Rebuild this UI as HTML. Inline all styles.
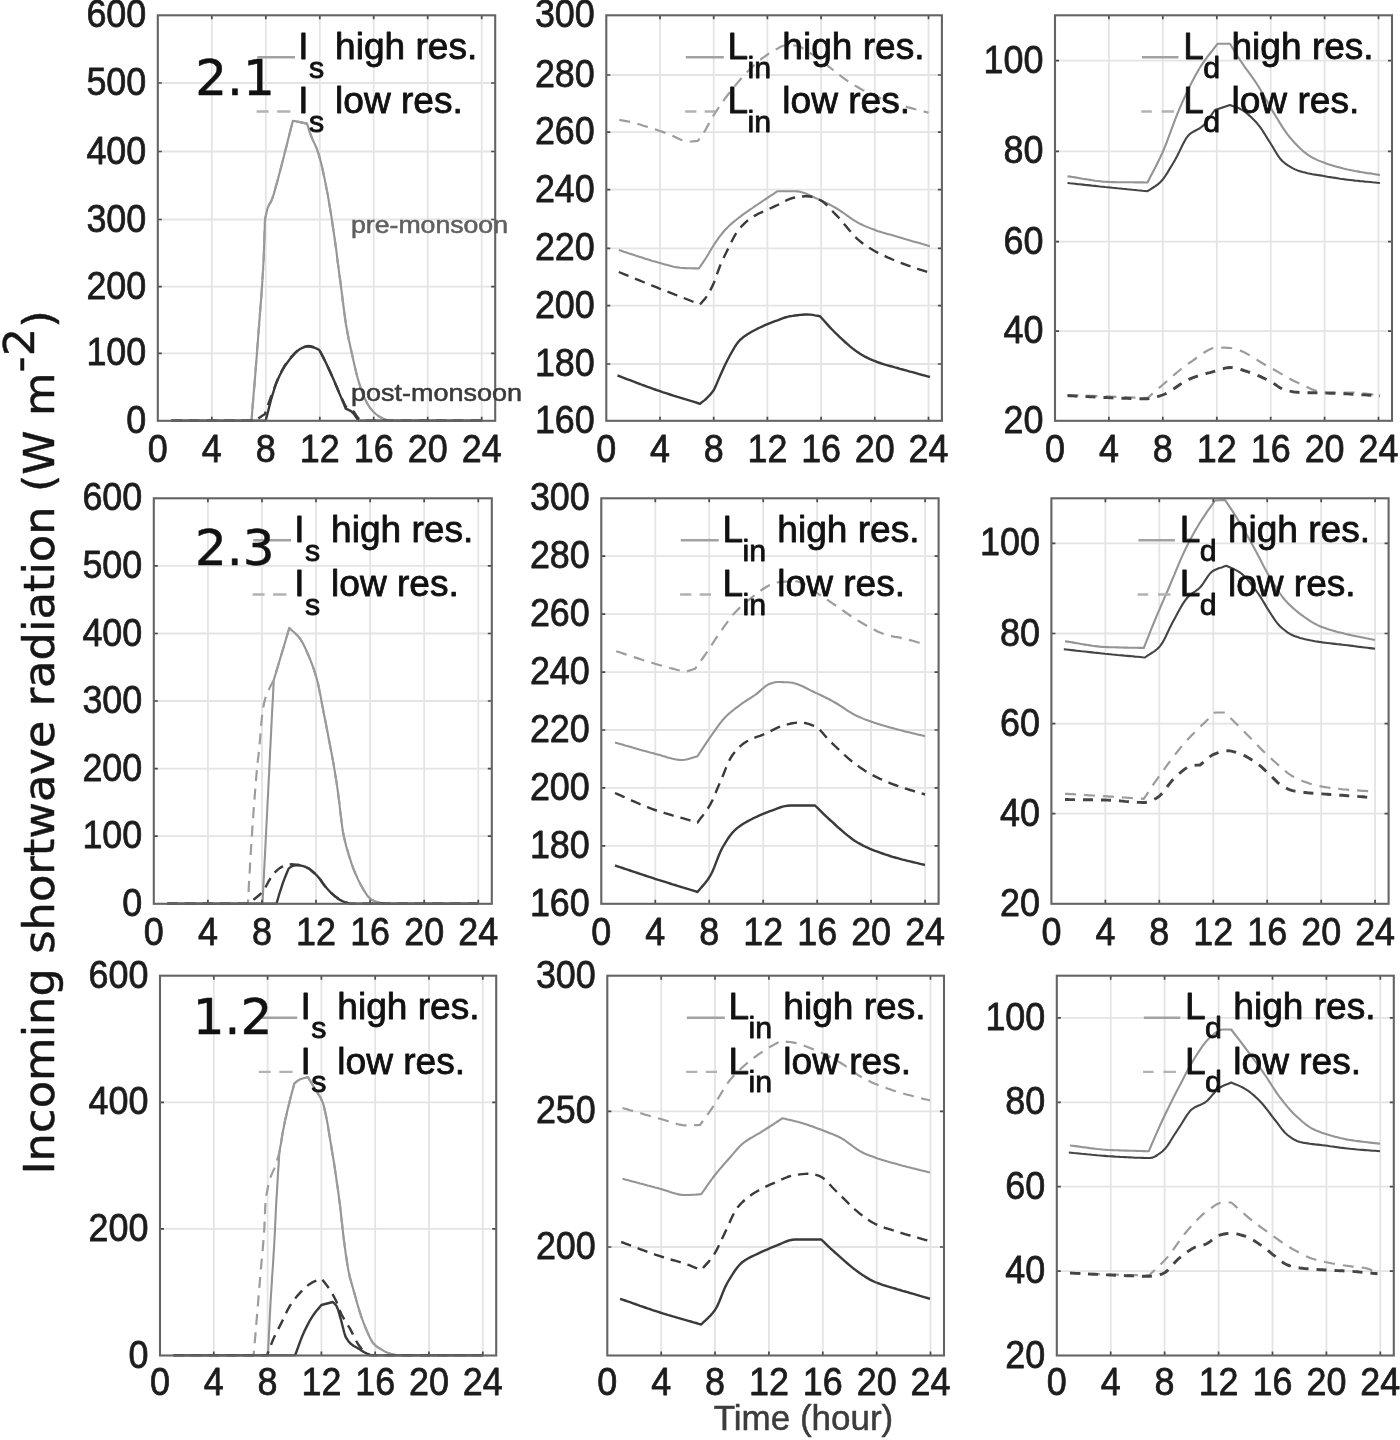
<!DOCTYPE html>
<html lang="en"><head><meta charset="utf-8"><title>Incoming radiation: high vs low resolution</title>
<style>
html,body{margin:0;padding:0;background:#fff;}
body{width:1400px;height:1440px;overflow:hidden;}
svg{display:block;}
.fig{filter:blur(0.75px);}
text{font-family:"Liberation Sans", Arial, Helvetica, sans-serif;fill:#1c1c1c;stroke:#1c1c1c;stroke-width:.75px;stroke-linejoin:round;}
.grid{fill:none;stroke:#e4e4e4;stroke-width:1.8;}
.tick{fill:none;stroke:#4a4a4a;stroke-width:1.7;}
.box{fill:none;stroke:#646464;stroke-width:2.1;}
.tl text{font-size:38px;}
.lg{font-size:36px;fill:#111;stroke:#111;stroke-width:.8px;}
.sub{font-size:29.5px;}
.pl{font-family:"DejaVu Sans", "Liberation Sans", sans-serif;font-size:50px;fill:#111;stroke:#111;stroke-width:.5px;}
.ann{font-size:24px;fill:#606060;stroke:#606060;stroke-width:.55px;}
.ann2{fill:#3a3a3a;stroke:#3a3a3a;}
.yl{font-family:"DejaVu Sans", "Liberation Sans", sans-serif;font-size:44.8px;fill:#161616;stroke:#161616;stroke-width:.5px;}
.xl{font-size:35px;fill:#3c3c3c;stroke:#3c3c3c;stroke-width:.5px;}
polyline{fill:none;stroke-linejoin:round;stroke-linecap:butt;}
.gs{stroke:#949494;stroke-width:2.1;}
.gd{stroke:#9d9d9d;stroke-width:2.2;stroke-dasharray:11 7.5;}
.bs{stroke:#3a3a3a;stroke-width:2.4;}
.bd{stroke:#3a3a3a;stroke-width:2.4;stroke-dasharray:10.5 7;}
.bs2{stroke:#444;stroke-width:2.1;}
.gd2{stroke:#9c9c9c;stroke-width:2.2;stroke-dasharray:11 8;}
.bd2{stroke:#444;stroke-width:2.9;stroke-dasharray:10 8;}
.lgs{stroke:#a2a2a2;stroke-width:2.4;}
.lgd{stroke:#b2b2b2;stroke-width:2.3;}
</style></head><body>
<svg class="fig" width="1400" height="1440" viewBox="0 0 1400 1440">
<rect width="1400" height="1440" fill="#fff"/>
<g class="panel">
<rect x="157.8" y="15.3" width="337.4" height="405.5" fill="#fff"/>
<path class="grid" d="M211.8 15.3V420.8M265.8 15.3V420.8M319.8 15.3V420.8M373.7 15.3V420.8M427.7 15.3V420.8M481.7 15.3V420.8M157.8 353.4H495.2M157.8 286.7H495.2M157.8 219.5H495.2M157.8 151.5H495.2M157.8 83H495.2"/>
<clipPath id="cp00"><rect x="157.8" y="14.3" width="337.4" height="407.5"/></clipPath>
<g clip-path="url(#cp00)">
<polyline class="gs" points="171.3,420.8 251.5,420.8 251.9,415.7 252.3,410.7 252.7,405.7 253.1,400.7 253.5,395.7 253.9,390.7 254.4,385.6 254.8,380.6 255.2,375.5 255.6,370.4 256,365.2 256.4,360 256.8,355.3 257.1,350.5 257.5,345.7 257.9,340.9 258.2,336 258.6,331 259,326.2 259.3,321.6 259.7,317.1 260,312.6 260.4,308.2 260.7,303.7 261.1,299.1 261.5,294.3 261.8,289.4 262.2,284.2 262.5,278.7 262.9,272.9 263.2,266.7 263.6,260 263.8,255.4 264,249.6 264.2,243.2 264.4,236.7 264.6,230.4 264.8,225 265,220.9 265.2,218.6 267.1,209.7 269,204.9 271,201.6 272.9,197 274.4,191.9 275.9,186.4 277.5,180.7 279,175 280.3,170.2 281.5,165.4 282.8,160.5 284.1,155.6 285.3,150.6 286.6,145.7 287.8,140.7 289.1,135.6 290.4,130.6 291.6,125.7 292.9,120.7 307,123.6 308.5,128.4 310,133 312.1,138.4 314.3,143.1 316.5,148 318.6,154 319.8,158.1 321,162.7 322.2,167.7 323.4,173.2 324.6,178.9 325.8,184.9 327,191 327.9,195.6 328.7,200.5 329.6,205.7 330.5,211.1 331.4,216.6 332.2,222.2 333.1,228 333.8,232.7 334.5,237.5 335.2,242.5 335.9,247.7 336.6,252.8 337.2,258.1 337.9,263.4 338.6,268.6 339.3,273.8 340,279 340.7,284 341.3,289.1 342,294.4 342.6,299.6 343.3,304.8 344,309.9 344.6,314.8 345.3,319.6 345.9,324 346.6,328 347.6,333.3 348.5,338.2 349.5,342.7 350.4,347.1 351.4,351.4 352.6,356.9 353.8,362.3 355,367.6 356.2,372.6 357.4,377.3 358.6,381.4 360.7,387.9 362.8,393.7 364.9,398.8 367,403 370,407.8 373,411.4 375.5,413.7 378,415.7 380.5,417.3 383,418.6 385.3,419.6 387.7,420.5 390,420.8 392.5,420.8 395,420.8 397.4,420.8 399.9,420.8 402.4,420.8 404.9,420.8 407.3,420.8 409.8,420.8 412.3,420.8 414.8,420.8 417.3,420.8 419.7,420.8 422.2,420.8 424.7,420.8 427.2,420.8 429.7,420.8 432.1,420.8 434.6,420.8 437.1,420.8 439.6,420.8 442,420.8 444.5,420.8 447,420.8 449.5,420.8 452,420.8 454.4,420.8 456.9,420.8 459.4,420.8 461.9,420.8 464.4,420.8 466.8,420.8 469.3,420.8 471.8,420.8 474.3,420.8 476.7,420.8 479.2,420.8 481.7,420.8"/>
<polyline class="gd" points="171.3,420.8 251.5,420.8 251.9,415.7 252.3,410.7 252.7,405.7 253.1,400.7 253.5,395.7 253.9,390.7 254.4,385.6 254.8,380.6 255.2,375.5 255.6,370.4 256,365.2 256.4,360 256.8,355.3 257.1,350.5 257.5,345.7 257.9,340.9 258.2,336 258.6,331 259,326.2 259.3,321.6 259.7,317.1 260,312.6 260.4,308.2 260.7,303.7 261.1,299.1 261.5,294.3 261.8,289.4 262.2,284.2 262.5,278.7 262.9,272.9 263.2,266.7 263.6,260 263.8,255.4 264,249.6 264.2,243.2 264.4,236.7 264.6,230.4 264.8,225 265,220.9 265.2,218.6 267.1,209.7 269,204.9 271,201.6 272.9,197 274.4,191.9 275.9,186.4 277.5,180.7 279,175 280.3,170.2 281.5,165.4 282.8,160.5 284.1,155.6 285.3,150.6 286.6,145.7 287.8,140.7 289.1,135.6 290.4,130.6 291.6,125.7 292.9,120.7 307,123.6 308.5,128.4 310,133 312.1,138.4 314.3,143.1 316.5,148 318.6,154 319.8,158.1 321,162.7 322.2,167.7 323.4,173.2 324.6,178.9 325.8,184.9 327,191 327.9,195.6 328.7,200.5 329.6,205.7 330.5,211.1 331.4,216.6 332.2,222.2 333.1,228 333.8,232.7 334.5,237.5 335.2,242.5 335.9,247.7 336.6,252.8 337.2,258.1 337.9,263.4 338.6,268.6 339.3,273.8 340,279 340.7,284 341.3,289.1 342,294.4 342.6,299.6 343.3,304.8 344,309.9 344.6,314.8 345.3,319.6 345.9,324 346.6,328 347.6,333.3 348.5,338.2 349.5,342.7 350.4,347.1 351.4,351.4 352.6,356.9 353.8,362.3 355,367.6 356.2,372.6 357.4,377.3 358.6,381.4 360.7,387.9 362.8,393.7 364.9,398.8 367,403 370,407.8 373,411.4 375.5,413.7 378,415.7 380.5,417.3 383,418.6 385.3,419.6 387.7,420.5 390,420.8 392.5,420.8 395,420.8 397.4,420.8 399.9,420.8 402.4,420.8 404.9,420.8 407.3,420.8 409.8,420.8 412.3,420.8 414.8,420.8 417.3,420.8 419.7,420.8 422.2,420.8 424.7,420.8 427.2,420.8 429.7,420.8 432.1,420.8 434.6,420.8 437.1,420.8 439.6,420.8 442,420.8 444.5,420.8 447,420.8 449.5,420.8 452,420.8 454.4,420.8 456.9,420.8 459.4,420.8 461.9,420.8 464.4,420.8 466.8,420.8 469.3,420.8 471.8,420.8 474.3,420.8 476.7,420.8 479.2,420.8 481.7,420.8"/>
<polyline class="bs" points="171.3,420.8 265.7,420.8 267,415.5 268.4,410.1 269.7,404.9 271,400 272.5,394.9 274,390 275.5,385.4 277,381.4 279.5,375.8 282,371 284.5,366.7 287,363 289.8,359.3 292.6,356 294.8,353.5 297,351.4 299.5,349.4 302,348 304.2,347.2 306.4,346.6 308.6,346.4 311.3,346.8 314,347.5 316.6,348.6 319.3,350 322,355 324.7,360.2 327.3,365.7 330,371.4 332,375.9 334,380.5 336,385.2 338,390 339.9,394.6 341.9,399.3 343.8,403.9 345.7,408.6 348.5,409.9 351.4,411.4 353.8,413.9 356.2,417.3 358.6,420.7 481.7,420.8"/>
<polyline class="bd" points="171.3,420.8 173.8,420.8 176.3,420.8 178.9,420.8 181.4,420.8 183.9,420.8 186.4,420.8 189,420.8 191.5,420.8 194,420.8 196.5,420.8 199,420.8 201.6,420.8 204.1,420.8 206.6,420.8 209.1,420.8 211.7,420.8 214.2,420.8 216.7,420.8 219.2,420.8 221.7,420.8 224.3,420.8 226.8,420.8 229.3,420.8 231.8,420.8 234.3,420.8 236.9,420.8 239.4,420.8 241.9,420.8 244.4,420.8 247,420.8 249.5,420.8 252,420.8 254.6,420.3 257.1,419.1 259.7,417.5 262.2,415.8 264.8,414.3 266.4,409.6 268,405 270,399.4 272,394 273.8,389.4 275.5,384.8 277.2,380.4 279,376.5 281.7,371.1 284.3,366.2 287,362 289.8,358.5 292.6,355.5 294.8,353.1 297,351 299.5,349 302,347.6 304.2,346.8 306.4,346.2 308.6,346 311.3,346.4 314,347.2 316.6,348.4 319.3,349.8 322,355 324.7,360.3 327.3,365.7 330,371.4 332,375.9 334,380.6 336,385.4 338,390 340.6,395.6 343.1,401 345.7,406.5 348.5,407.6 351.4,409 353.8,411.7 356.2,415.5 358.6,418.5 362,420.8 481.7,420.8"/>
</g>
<path class="tick" d="M211.8 420.8v-4M211.8 15.3v4M265.8 420.8v-4M265.8 15.3v4M319.8 420.8v-4M319.8 15.3v4M373.7 420.8v-4M373.7 15.3v4M427.7 420.8v-4M427.7 15.3v4M481.7 420.8v-4M481.7 15.3v4M157.8 353.4h4M495.2 353.4h-4M157.8 286.7h4M495.2 286.7h-4M157.8 219.5h4M495.2 219.5h-4M157.8 151.5h4M495.2 151.5h-4M157.8 83h4M495.2 83h-4"/>
<rect class="box" x="157.8" y="15.3" width="337.4" height="405.5"/>
<g class="tl">
<text text-anchor="middle" transform="translate(157.8 461.6) scale(0.945 1.000)">0</text>
<text text-anchor="middle" transform="translate(211.8 461.6) scale(0.945 1.000)">4</text>
<text text-anchor="middle" transform="translate(265.8 461.6) scale(0.945 1.000)">8</text>
<text text-anchor="middle" transform="translate(319.8 461.6) scale(0.945 1.000)">12</text>
<text text-anchor="middle" transform="translate(373.7 461.6) scale(0.945 1.000)">16</text>
<text text-anchor="middle" transform="translate(427.7 461.6) scale(0.945 1.000)">20</text>
<text text-anchor="middle" transform="translate(481.7 461.6) scale(0.945 1.000)">24</text>
<text text-anchor="end" transform="translate(146.3 432.8) scale(0.945 1.000)">0</text>
<text text-anchor="end" transform="translate(146.3 365.4) scale(0.945 1.000)">100</text>
<text text-anchor="end" transform="translate(146.3 298.7) scale(0.945 1.000)">200</text>
<text text-anchor="end" transform="translate(146.3 231.5) scale(0.945 1.000)">300</text>
<text text-anchor="end" transform="translate(146.3 163.5) scale(0.945 1.000)">400</text>
<text text-anchor="end" transform="translate(146.3 95) scale(0.945 1.000)">500</text>
<text text-anchor="end" transform="translate(146.3 27.3) scale(0.945 1.000)">600</text>
</g>
<line class="lgs" x1="257.3" y1="57.3" x2="295" y2="57.3"/>
<text class="lg" transform="translate(298.2 58.9) scale(1.030 1.000)">I</text>
<text class="lg sub" transform="translate(309.1 77.8) scale(1.030 1.000)">s</text>
<text class="lg" transform="translate(335.1 58.9) scale(1.030 1.000)">high res.</text>
<line class="lgd" x1="256.6" y1="111.5" x2="290.4" y2="111.5" stroke-dasharray="12 8.5 13.3 10"/>
<text class="lg" transform="translate(298.2 113.1) scale(1.030 1.000)">I</text>
<text class="lg sub" transform="translate(309.1 132) scale(1.030 1.000)">s</text>
<text class="lg" transform="translate(335.1 113.1) scale(1.030 1.000)">low res.</text>
<text class="pl" x="195.3" y="95.3">2.1</text>
<text class="ann" x="351" y="233.3" textLength="157" lengthAdjust="spacingAndGlyphs">pre-monsoon</text>
<text class="ann ann2" x="351" y="401" textLength="171" lengthAdjust="spacingAndGlyphs">post-monsoon</text>
</g>
<g class="panel">
<rect x="606.3" y="15.3" width="335.6" height="405.5" fill="#fff"/>
<path class="grid" d="M660 15.3V420.8M713.7 15.3V420.8M767.4 15.3V420.8M821.1 15.3V420.8M874.8 15.3V420.8M928.5 15.3V420.8M606.3 364H941.9M606.3 305.7H941.9M606.3 248.3H941.9M606.3 189.7H941.9M606.3 132.2H941.9M606.3 75H941.9"/>
<clipPath id="cp01"><rect x="606.3" y="14.3" width="335.6" height="407.5"/></clipPath>
<g clip-path="url(#cp01)">
<polyline class="gd" points="619.3,119.8 622,120.3 624.7,120.8 627.3,121.3 630,121.9 632.7,122.5 635.4,123.2 638,124 640.7,124.8 643.3,125.7 646,126.5 648.3,127.2 650.7,127.9 653,128.7 655.3,129.4 657.7,130.2 660,131 662.6,131.9 665.2,132.9 667.8,133.9 670.4,134.9 673,136 675.6,137.2 678.2,138.5 680.9,139.7 683.5,140.5 685.7,141 687.8,141.3 690,141.5 692.6,141.4 695.1,141.2 697.7,141 700.4,137.6 703,134 705.7,129.6 708.4,124.6 711.1,119.6 713.8,115 716.5,110.8 719.2,106.8 721.9,102.9 724.6,99.1 727.3,95.5 730,92 732.5,88.8 735.1,85.7 737.6,82.6 740.1,79.7 742.7,76.8 745.2,74.1 747.7,71.5 750.1,69 752.6,66.6 755.1,64.2 757.5,62 760,60 762.5,58.1 765,56.3 767.5,54.5 770,52.9 772.5,51.4 775,50 777.5,48.6 780,47.1 782.5,46 785,45.5 787.5,45.5 790,45.5 792.5,45.5 795,45.5 797.5,45.9 800,46.8 802.5,48.1 805,49.7 807.5,51.4 810,53 812.5,54.6 815,56.3 817.5,58.1 820,60 822.5,61.9 825,63.8 827.5,65.6 830,67.5 832.5,69.5 835,71.5 837.5,73.4 840,75.4 842.5,77.3 845,79.1 847.5,80.9 850,82.5 852.5,84.1 855,85.6 857.5,87 860,88.5 862.5,89.9 865,91.2 867.5,92.5 870,93.7 872.5,94.9 875,96 877.5,97.1 880,98.1 882.5,99 885,100 887.5,100.9 890,101.8 892.5,102.6 895,103.4 897.5,104.2 900,105 902.6,105.8 905.2,106.5 907.8,107.2 910.4,107.9 913,108.6 915.6,109.3 918.2,109.9 920.8,110.6 923.4,111.3 926,112 928.5,112.7"/>
<polyline class="gs" points="618.8,250 621.3,250.8 623.9,251.7 626.5,252.5 629.1,253.4 631.6,254.2 634.2,255.1 636.8,255.9 639.4,256.8 642,257.6 644.5,258.5 647.1,259.3 649.7,260.1 652.3,260.9 654.8,261.6 657.4,262.3 660,263 662.5,263.7 665,264.4 667.5,265.1 670,265.7 672.5,266.4 675,267 677.5,267.4 680,267.8 682.5,268 685.2,268.1 687.9,268.2 690.6,268.3 693.3,268.4 696,268.4 698.8,268.5 701.2,265.1 703.6,261.6 706,258 708.6,253.7 711.2,249.2 713.8,245 716.6,240.9 719.4,236.9 722.2,233.3 725,230 727.5,227.4 730,225.1 732.5,222.9 735,220.8 737.5,218.8 740,216.8 742.5,214.9 745,213.1 747.5,211.4 750,209.7 752.5,208 755,206.2 757.5,204.5 760,202.8 762.5,201.2 765,199.5 767.5,197.9 770,196.2 772.5,194.6 775,192.9 777.5,191.2 780,191.2 782.5,191.2 785,191.2 787.5,191.2 790,191.2 792.5,191.2 795,191.2 797.5,191.4 800,191.8 802.5,192.5 805,193.3 807.5,194.3 810,195.4 812.5,196.6 815,197.8 817.5,198.9 820,200 822.5,201.1 825,202.3 827.5,203.5 830,204.8 832.5,206.1 835,207.5 837.5,209 840,210.6 842.5,212.3 845,214 847.5,215.8 850,217.6 852.5,219.3 855,220.9 857.5,222.4 860,223.8 862.5,225 865,226.1 867.5,227.1 870,228.1 872.5,229.1 875,230 877.5,230.9 880,231.7 882.5,232.5 885,233.2 887.5,233.9 890,234.6 892.5,235.3 895,236.1 897.5,236.8 900,237.5 902.5,238.2 905,239 907.5,239.7 910,240.4 912.5,241.2 915,241.9 917.5,242.6 920,243.3 922.5,244.1 925,244.8 927.5,245.5 930,246.2"/>
<polyline class="bd" points="618.8,272 621.3,273 623.9,274.1 626.5,275.2 629.1,276.2 631.6,277.3 634.2,278.3 636.8,279.4 639.4,280.4 642,281.5 644.5,282.5 647.1,283.6 649.7,284.6 652.3,285.7 654.8,286.7 657.4,287.7 660,288.8 662.5,289.7 665,290.7 667.5,291.7 670,292.6 672.5,293.6 675,294.6 677.5,295.5 680,296.5 682.5,297.5 685,298.5 687.5,299.5 690,300.5 692.5,301.5 695,302.5 697.5,303.5 700,304.5 702.3,301.8 704.7,299.1 707,296 709.2,292.3 711.5,287.9 713.8,283 715.8,277.6 717.9,271.6 720,266 722.5,260.3 725,255 727.5,250 730,244.9 732.5,239.8 735,235.1 737.5,231.2 740,228.1 742.5,225.3 745,222.8 747.5,220.6 750,218.8 752.5,217.1 755,215.6 757.5,214.2 760,213 762.5,211.8 765,210.7 767.5,209.6 770,208.5 772.5,207.4 775,206.2 777.5,205 780,203.7 782.5,202.4 785,201.1 787.5,199.9 790,198.9 792.5,198 795,197.5 797.5,197.1 800,196.8 802.5,196.5 805,196.3 807.5,196.2 810,196.5 812.5,197 815,197.9 817.5,198.9 820,200 822.5,201.4 825,203.5 827.5,205.8 830,208.5 832.5,211.2 835,213.8 837.5,216.3 840,219.1 842.5,222.1 845,225.1 847.5,228.1 850,231 852.5,233.9 855,236.6 857.5,239.1 860,241.2 862.5,243.2 865,245 867.5,246.8 870,248.3 872.5,249.8 875,251.2 877.5,252.6 880,253.9 882.5,255.1 885,256.2 887.5,257.4 890,258.4 892.5,259.5 895,260.5 897.5,261.5 900,262.5 902.5,263.5 905,264.4 907.5,265.3 910,266.2 912.5,267.1 915,267.9 917.5,268.8 920,269.6 922.5,270.4 925,271.2 927,271.9 929,272.5"/>
<polyline class="bs" points="617.5,375.5 620,376.4 622.5,377.4 625,378.3 627.5,379.3 630,380.2 632.5,381.2 635,382.1 637.5,383.1 640,384 642.5,385 645,385.9 647.5,386.8 650,387.7 652.5,388.6 655,389.5 657.5,390.4 660,391.2 662.5,392.1 665,392.9 667.5,393.7 670,394.5 672.5,395.3 675,396.1 677.5,396.9 680,397.6 682.5,398.4 685,399.2 687.5,399.9 690,400.7 692.5,401.4 695,402.2 697.5,403 700,403.8 702.3,401.9 704.7,400.1 707,398 709.2,395.7 711.5,393.1 713.8,390 715.8,385.9 717.9,380.9 720,376 722.5,370.4 725,365 727.5,360 730,355.3 732.5,350.8 735,346.5 737.5,342.9 740,340 742.5,337.8 745,335.9 747.5,334.2 750,332.7 752.5,331.3 755,330 757.5,328.7 760,327.5 762.5,326.3 765,325.2 767.5,324.2 770,323.2 772.5,322.2 775,321.2 777.5,320.3 780,319.3 782.5,318.3 785,317.5 787.5,316.8 790,316.2 792.5,315.9 795,315.5 797.5,315.2 800,314.9 802.5,314.7 805,314.5 807.5,314.5 810,314.6 812.5,314.9 815,315.4 817.5,315.8 820,316.2 822.5,319 825,321.8 827.5,324.6 830,327.4 832.5,330 835,332.5 837.5,334.9 840,337.3 842.5,339.7 845,342 847.5,344.2 850,346.4 852.5,348.4 855,350.3 857.5,352.1 860,353.8 862.5,355.2 865,356.6 867.5,357.9 870,359.1 872.5,360.2 875,361.2 877.5,362.2 880,363 882.5,363.8 885,364.6 887.5,365.3 890,366 892.5,366.7 895,367.4 897.5,368 900,368.8 902.5,369.5 905,370.2 907.5,370.9 910,371.6 912.5,372.2 915,372.9 917.5,373.6 920,374.3 922.5,375 925,375.6 927.5,376.3 930,377"/>
</g>
<path class="tick" d="M660 420.8v-4M660 15.3v4M713.7 420.8v-4M713.7 15.3v4M767.4 420.8v-4M767.4 15.3v4M821.1 420.8v-4M821.1 15.3v4M874.8 420.8v-4M874.8 15.3v4M928.5 420.8v-4M928.5 15.3v4M606.3 364h4M941.9 364h-4M606.3 305.7h4M941.9 305.7h-4M606.3 248.3h4M941.9 248.3h-4M606.3 189.7h4M941.9 189.7h-4M606.3 132.2h4M941.9 132.2h-4M606.3 75h4M941.9 75h-4"/>
<rect class="box" x="606.3" y="15.3" width="335.6" height="405.5"/>
<g class="tl">
<text text-anchor="middle" transform="translate(606.3 461.6) scale(0.945 1.000)">0</text>
<text text-anchor="middle" transform="translate(660 461.6) scale(0.945 1.000)">4</text>
<text text-anchor="middle" transform="translate(713.7 461.6) scale(0.945 1.000)">8</text>
<text text-anchor="middle" transform="translate(767.4 461.6) scale(0.945 1.000)">12</text>
<text text-anchor="middle" transform="translate(821.1 461.6) scale(0.945 1.000)">16</text>
<text text-anchor="middle" transform="translate(874.8 461.6) scale(0.945 1.000)">20</text>
<text text-anchor="middle" transform="translate(928.5 461.6) scale(0.945 1.000)">24</text>
<text text-anchor="end" transform="translate(594.8 432.8) scale(0.945 1.000)">160</text>
<text text-anchor="end" transform="translate(594.8 376) scale(0.945 1.000)">180</text>
<text text-anchor="end" transform="translate(594.8 317.7) scale(0.945 1.000)">200</text>
<text text-anchor="end" transform="translate(594.8 260.3) scale(0.945 1.000)">220</text>
<text text-anchor="end" transform="translate(594.8 201.7) scale(0.945 1.000)">240</text>
<text text-anchor="end" transform="translate(594.8 144.2) scale(0.945 1.000)">260</text>
<text text-anchor="end" transform="translate(594.8 87) scale(0.945 1.000)">280</text>
<text text-anchor="end" transform="translate(594.8 27.3) scale(0.945 1.000)">300</text>
</g>
<line class="lgs" x1="685.8" y1="57.3" x2="723.8" y2="57.3"/>
<text class="lg" transform="translate(727.6 58.9) scale(1.030 1.000)">L</text>
<text class="lg sub" transform="translate(747.6 77.8) scale(1.030 1.000)">in</text>
<text class="lg" transform="translate(782.3 58.9) scale(1.030 1.000)">high res.</text>
<line class="lgd" x1="685.1" y1="111.5" x2="717.3" y2="111.5" stroke-dasharray="11.3 8.3"/>
<text class="lg" transform="translate(727.6 113.1) scale(1.030 1.000)">L</text>
<text class="lg sub" transform="translate(747.6 132) scale(1.030 1.000)">in</text>
<text class="lg" transform="translate(782.3 113.1) scale(1.030 1.000)">low res.</text>
</g>
<g class="panel">
<rect x="1055" y="15.3" width="337" height="405.5" fill="#fff"/>
<path class="grid" d="M1108.9 15.3V420.8M1162.8 15.3V420.8M1216.8 15.3V420.8M1270.7 15.3V420.8M1324.6 15.3V420.8M1378.5 15.3V420.8M1055 331.1H1392M1055 241.7H1392M1055 151.4H1392M1055 60.6H1392"/>
<clipPath id="cp02"><rect x="1055" y="14.3" width="337" height="407.5"/></clipPath>
<g clip-path="url(#cp02)">
<polyline class="gs" points="1067.5,176.2 1070,176.6 1072.5,177 1075,177.4 1077.5,177.8 1080,178.2 1082.5,178.7 1085,179.1 1087.5,179.5 1090,179.9 1092.5,180.3 1095,180.7 1097.5,181 1100,181.3 1102.5,181.6 1105,181.8 1107.5,181.9 1110,182 1112.5,182.1 1115,182.1 1117.5,182.2 1120,182.2 1122.5,182.2 1125,182.3 1127.5,182.3 1130,182.3 1132.5,182.3 1135,182.4 1137.5,182.4 1140,182.4 1142.5,182.4 1145,182.5 1147.5,182.5 1150,177.6 1152.5,172.8 1155,168 1157.5,163 1160,157.9 1162.5,152.5 1164.4,147.9 1166.4,143.1 1168.3,137.9 1170.3,132.7 1172.2,127.4 1174.2,122.1 1176.1,117 1178.1,112.1 1180,107.5 1182.5,101.9 1185,96.4 1187.5,91.1 1190,85.9 1192.5,80.9 1195,76.2 1197.5,71.7 1200,67.5 1202.5,63.6 1205,60.1 1207.5,56.7 1210,53.5 1212.5,50.3 1215,47.1 1217.5,43.8 1230,43.8 1232.5,47.9 1235,52 1237.5,56.1 1240,60 1242.5,63.7 1245,67.3 1247.5,70.7 1250,74.2 1252.5,77.6 1255,81.2 1257.5,85 1260,89 1262.5,93.3 1265,97.7 1267.5,102.1 1270,106.6 1272.5,110.9 1275,115 1277.5,119 1280,123.1 1282.5,127.1 1285,130.8 1287.5,134.4 1290,137.5 1292.5,140.4 1295,143.2 1297.5,145.8 1300,148.3 1302.5,150.6 1305,152.7 1307.5,154.6 1310,156.2 1312.5,157.7 1315,158.9 1317.5,160.1 1320,161.1 1322.5,162.1 1325,163 1327.5,163.9 1330,164.7 1332.5,165.5 1335,166.2 1337.5,166.9 1340,167.6 1342.5,168.3 1345,168.9 1347.5,169.5 1350,170 1352.5,170.5 1355,171 1357.5,171.4 1360,171.9 1362.5,172.3 1365,172.7 1367.5,173.1 1370,173.4 1372.5,173.8 1375,174.2 1377.5,174.6 1380,175"/>
<polyline class="bs2" points="1067.5,183 1070,183.3 1072.5,183.5 1075,183.8 1077.5,184.1 1080,184.3 1082.5,184.6 1085,184.9 1087.5,185.1 1090,185.4 1092.5,185.7 1095,185.9 1097.5,186.2 1100,186.5 1102.5,186.7 1105,187 1107.5,187.2 1110,187.5 1112.5,187.8 1115,188 1117.5,188.3 1120,188.5 1122.5,188.8 1125,189 1127.5,189.3 1130,189.5 1132.5,189.8 1135,190 1137.5,190.3 1140,190.5 1142.5,190.8 1145,191 1147.5,191.2 1150,189.6 1152.5,188 1155,186.4 1157.5,184.6 1160,182.5 1162.5,179.8 1165,176.4 1167.5,172.6 1170,168.4 1172.5,164.2 1175,160 1177.3,155.8 1179.6,151.1 1181.9,146.3 1184.2,141.7 1186.5,137.8 1188.8,135 1191,133.1 1193.3,131.7 1195.6,130.5 1197.9,129.3 1200.2,128 1202.5,126.2 1205,123.7 1207.5,120.5 1210,117 1212.5,113.4 1215,110 1230,105 1232.5,105.9 1235,106.7 1237.5,107.6 1240,108.8 1242.5,110.2 1245,111.9 1247.5,113.9 1250,116.1 1252.5,118.5 1255,121 1257.5,123.8 1260,126.9 1262.5,130.5 1265,134.5 1267.5,138.6 1270,142.5 1272.5,146.5 1275,150.8 1277.5,154.9 1280,158.5 1282.5,161.2 1285,163.3 1287.5,165.1 1290,166.7 1292.5,168.1 1295,169.4 1297.5,170.4 1300,171.2 1302.5,172 1305,172.6 1307.5,173.2 1310,173.7 1312.5,174.2 1315,174.6 1317.5,175 1320,175.4 1322.5,175.8 1325,176.2 1327.5,176.7 1330,177.1 1332.5,177.5 1335,177.9 1337.5,178.3 1340,178.7 1342.5,179 1345,179.4 1347.5,179.7 1350,180 1352.5,180.3 1355,180.6 1357.5,180.8 1360,181.1 1362.5,181.3 1365,181.6 1367.5,181.8 1370,182 1372.5,182.3 1375,182.5 1377.5,182.8 1380,183"/>
<polyline class="gd2" points="1067.5,395 1147.5,398 1150,395.8 1152.5,393.6 1155,391.5 1157.5,389.3 1160,387.1 1162.5,385 1165,382.9 1167.5,380.7 1170,378.5 1172.5,376.3 1175,374.2 1177.5,372 1180,370 1182.5,367.9 1185,366 1187.5,364.2 1190,362.5 1192.5,360.8 1195,359 1197.5,357.2 1200,355.3 1202.5,353.6 1205,352 1207.5,350.5 1210,349.3 1212.5,348.3 1215,347.7 1217.5,347.5 1220,347.5 1222.5,347.6 1225,347.7 1227.5,347.8 1230,348 1232.5,348.3 1235,348.8 1237.5,349.5 1240,350.4 1242.5,351.5 1245,352.7 1247.5,354.1 1250,355.5 1252.5,357 1255,358.5 1257.5,360.1 1260,361.7 1262.5,363.2 1265,364.7 1267.5,366.2 1270,367.5 1272.5,368.8 1275,370.2 1277.5,371.6 1280,373.1 1282.5,374.5 1285,376 1287.5,377.4 1290,378.8 1292.5,380.2 1295,381.4 1297.5,382.6 1300,383.8 1302.5,384.9 1305,386 1307.5,387.2 1310,388.4 1312.5,389.4 1315,390.4 1317.5,391.3 1320,391.9 1322.5,392.4 1325,392.5 1327.5,392.5 1330,392.5 1332.5,392.5 1335,392.5 1337.5,392.5 1340,392.5 1342.5,392.5 1345,392.5 1347.5,392.5 1350,392.5 1352.5,392.5 1355,392.7 1357.5,392.8 1360,393 1362.5,393.3 1365,393.6 1367.5,393.9 1370,394.2 1372.5,394.5 1375,394.8 1377.5,395"/>
<polyline class="bd2" points="1067.5,395.8 1070,395.8 1072.5,395.9 1075,396.1 1077.5,396.2 1080,396.3 1082.5,396.4 1085,396.5 1087.5,396.6 1090,396.8 1092.5,396.9 1095,397 1097.5,397.1 1100,397.3 1102.5,397.4 1105,397.5 1107.5,397.6 1110,397.7 1112.5,397.9 1115,398 1117.5,398.1 1120,398.2 1122.5,398.3 1125,398.3 1127.5,398.4 1130,398.5 1132.5,398.6 1135,398.6 1137.5,398.7 1140,398.7 1142.5,398.7 1145,398.7 1147.5,398.8 1150,398.6 1152.5,398.2 1155,397.5 1157.5,396.7 1160,395.9 1162.5,395 1165,394 1167.5,392.7 1170,391.3 1172.5,389.7 1175,388 1177.5,386.2 1180,384.5 1182.5,382.8 1185,381.2 1187.5,379.9 1190,378.8 1192.5,377.8 1195,376.9 1197.5,376.1 1200,375.3 1202.5,374.6 1205,373.9 1207.5,373.2 1210,372.6 1212.5,371.9 1215,371.2 1217.5,370.5 1220,369.7 1222.5,368.9 1225,368.2 1227.5,367.7 1230,367.5 1232.5,367.6 1235,368 1237.5,368.5 1240,369.2 1242.5,370 1245,370.8 1247.5,371.7 1250,372.5 1252.5,373.3 1255,374.3 1257.5,375.3 1260,376.4 1262.5,377.6 1265,378.8 1267.5,380 1270,381.2 1272.5,382.7 1275,384.3 1277.5,386.1 1280,387.7 1282.5,389.1 1285,390 1287.5,390.6 1290,391.2 1292.5,391.7 1295,392.1 1297.5,392.3 1300,392.5 1302.5,392.6 1305,392.7 1307.5,392.7 1310,392.7 1312.5,392.8 1315,392.8 1317.5,392.9 1320,392.9 1322.5,392.9 1325,393 1327.5,393.1 1330,393.2 1332.5,393.2 1335,393.3 1337.5,393.5 1340,393.6 1342.5,393.7 1345,393.8 1347.5,393.9 1350,394.1 1352.5,394.2 1355,394.4 1357.5,394.5 1360,394.6 1362.5,394.8 1365,394.9 1367.5,395.1 1370,395.2 1372.5,395.4 1375,395.5 1377.5,395.6 1380,395.8"/>
</g>
<path class="tick" d="M1108.9 420.8v-4M1108.9 15.3v4M1162.8 420.8v-4M1162.8 15.3v4M1216.8 420.8v-4M1216.8 15.3v4M1270.7 420.8v-4M1270.7 15.3v4M1324.6 420.8v-4M1324.6 15.3v4M1378.5 420.8v-4M1378.5 15.3v4M1055 331.1h4M1392 331.1h-4M1055 241.7h4M1392 241.7h-4M1055 151.4h4M1392 151.4h-4M1055 60.6h4M1392 60.6h-4"/>
<rect class="box" x="1055" y="15.3" width="337" height="405.5"/>
<g class="tl">
<text text-anchor="middle" transform="translate(1055 461.6) scale(0.945 1.000)">0</text>
<text text-anchor="middle" transform="translate(1108.9 461.6) scale(0.945 1.000)">4</text>
<text text-anchor="middle" transform="translate(1162.8 461.6) scale(0.945 1.000)">8</text>
<text text-anchor="middle" transform="translate(1216.8 461.6) scale(0.945 1.000)">12</text>
<text text-anchor="middle" transform="translate(1270.7 461.6) scale(0.945 1.000)">16</text>
<text text-anchor="middle" transform="translate(1324.6 461.6) scale(0.945 1.000)">20</text>
<text text-anchor="middle" transform="translate(1378.5 461.6) scale(0.945 1.000)">24</text>
<text text-anchor="end" transform="translate(1043.5 432.8) scale(0.945 1.000)">20</text>
<text text-anchor="end" transform="translate(1043.5 343.1) scale(0.945 1.000)">40</text>
<text text-anchor="end" transform="translate(1043.5 253.7) scale(0.945 1.000)">60</text>
<text text-anchor="end" transform="translate(1043.5 163.4) scale(0.945 1.000)">80</text>
<text text-anchor="end" transform="translate(1043.5 72.6) scale(0.945 1.000)">100</text>
</g>
<line class="lgs" x1="1142" y1="57.3" x2="1178.5" y2="57.3"/>
<text class="lg" transform="translate(1183.3 58.9) scale(1.030 1.000)">L</text>
<text class="lg sub" transform="translate(1203.3 77.8) scale(1.030 1.000)">d</text>
<text class="lg" transform="translate(1231.5 58.9) scale(1.030 1.000)">high res.</text>
<line class="lgd" x1="1141.3" y1="111.5" x2="1175.3" y2="111.5" stroke-dasharray="10.5 9.8 12.5 9"/>
<text class="lg" transform="translate(1183.3 113.1) scale(1.030 1.000)">L</text>
<text class="lg sub" transform="translate(1203.3 132) scale(1.030 1.000)">d</text>
<text class="lg" transform="translate(1231.5 113.1) scale(1.030 1.000)">low res.</text>
</g>
<g class="panel">
<rect x="153.8" y="498.3" width="338" height="405.5" fill="#fff"/>
<path class="grid" d="M207.9 498.3V903.8M262 498.3V903.8M316 498.3V903.8M370.1 498.3V903.8M424.2 498.3V903.8M478.3 498.3V903.8M153.8 836.2H491.8M153.8 768.6H491.8M153.8 701H491.8M153.8 633.5H491.8M153.8 565.9H491.8"/>
<clipPath id="cp10"><rect x="153.8" y="497.3" width="338" height="407.5"/></clipPath>
<g clip-path="url(#cp10)">
<polyline class="gs" points="167.3,903.8 262.5,903.8 262.7,898.9 263,894 263.2,889.1 263.5,884.1 263.7,879.2 264,874.3 264.2,869.4 264.5,864.5 264.7,859.6 265,854.7 265.2,849.8 265.5,844.9 265.7,840 266,834.8 266.2,829.6 266.5,824.5 266.8,819.3 267,814.2 267.3,809 267.5,803.9 267.8,798.7 268.1,793.5 268.3,788.3 268.6,783 268.8,778.3 269.1,773.5 269.3,768.7 269.5,763.9 269.8,759 270,754.2 270.2,749.4 270.5,744.7 270.7,740 271,734.9 271.2,729.8 271.5,724.7 271.7,719.7 272,714.7 272.2,709.8 272.5,704.8 272.8,699.9 273,694.9 273.3,690 273.5,685 273.8,680 289.3,628 292,630.5 294.6,632.8 297.3,635.4 300,638.6 302.9,643.2 305.7,649.1 308.6,655.7 310.3,659.8 312,664.1 313.7,668.9 315.4,674.1 317.1,680 318.1,683.9 319,688.4 320,693.3 321,698.4 321.9,703.6 322.9,708.6 323.8,713.4 324.8,718.3 325.8,723.1 326.7,728.1 327.7,733 328.6,738 329.6,743 330.5,747.9 331.5,752.8 332.4,757.9 333.4,763.1 334.3,768.6 335,772.9 335.7,777.4 336.5,782.1 337.2,786.9 337.9,791.9 338.6,797 339.2,801.8 339.8,807 340.4,812.4 341.1,817.9 341.7,823 342.3,827.6 342.9,831.4 344,837.1 345.2,842.1 346.3,846.5 347.5,850.5 348.6,854.3 350.4,860 352.1,865.2 353.9,870 355.7,874.3 358.1,879.6 360.5,884.4 362.9,888.6 365.3,892.5 367.6,896.1 370,898.6 372.3,900.1 374.7,901.2 377,902 379.3,902.6 381.6,903 384,903.4 386.3,903.7 388.6,903.8 391.1,903.8 393.6,903.8 396.1,903.8 398.6,903.8 401.1,903.8 403.6,903.8 406,903.8 408.5,903.8 411,903.8 413.5,903.8 416,903.8 418.5,903.8 421,903.8 423.5,903.8 426,903.8 428.5,903.8 431,903.8 433.5,903.8 435.9,903.8 438.4,903.8 440.9,903.8 443.4,903.8 445.9,903.8 448.4,903.8 450.9,903.8 453.4,903.8 455.9,903.8 458.4,903.8 460.9,903.8 463.4,903.8 465.8,903.8 468.3,903.8 470.8,903.8 473.3,903.8 475.8,903.8 478.3,903.8"/>
<polyline class="gd" points="167.3,903.8 247.9,903.8 248.2,898.8 248.5,893.7 248.7,888.6 249,883.4 249.3,878.3 249.6,873.3 249.9,868.3 250.1,863.4 250.4,858.6 250.7,854 251,848.8 251.3,843.8 251.7,838.8 252,834 252.3,829.2 252.6,824.5 253,819.9 253.3,815.4 253.6,811 254,805.6 254.4,800.3 254.8,795 255.2,790 255.6,785 256,780.3 256.4,775.7 256.9,770.2 257.4,765 257.9,760 258.5,755.2 259,750.3 259.5,745.3 260,740 260.4,735.3 260.8,730.1 261.2,724.8 261.7,719.8 262.1,715.4 262.5,712 263.6,705.7 264.6,700.8 265.7,697 268.4,690.2 271.1,685.1 273.8,680 289.3,628 292,630.5 294.6,632.8 297.3,635.4 300,638.6 302.9,643.2 305.7,649.1 308.6,655.7 310.3,659.8 312,664.1 313.7,668.9 315.4,674.1 317.1,680 318.1,683.9 319,688.4 320,693.3 321,698.4 321.9,703.6 322.9,708.6 323.8,713.4 324.8,718.3 325.8,723.1 326.7,728.1 327.7,733 328.6,738 329.6,743 330.5,747.9 331.5,752.8 332.4,757.9 333.4,763.1 334.3,768.6 335,772.9 335.7,777.4 336.5,782.1 337.2,786.9 337.9,791.9 338.6,797 339.2,801.8 339.8,807 340.4,812.4 341.1,817.9 341.7,823 342.3,827.6 342.9,831.4 344,837.1 345.2,842.1 346.3,846.5 347.5,850.5 348.6,854.3 350.4,860 352.1,865.2 353.9,870 355.7,874.3 358.1,879.6 360.5,884.4 362.9,888.6 365.3,892.5 367.6,896.1 370,898.6 372.3,900.1 374.7,901.2 377,902 379.3,902.6 381.6,903 384,903.4 386.3,903.7 388.6,903.8 391.1,903.8 393.6,903.8 396.1,903.8 398.6,903.8 401.1,903.8 403.6,903.8 406,903.8 408.5,903.8 411,903.8 413.5,903.8 416,903.8 418.5,903.8 421,903.8 423.5,903.8 426,903.8 428.5,903.8 431,903.8 433.5,903.8 435.9,903.8 438.4,903.8 440.9,903.8 443.4,903.8 445.9,903.8 448.4,903.8 450.9,903.8 453.4,903.8 455.9,903.8 458.4,903.8 460.9,903.8 463.4,903.8 465.8,903.8 468.3,903.8 470.8,903.8 473.3,903.8 475.8,903.8 478.3,903.8"/>
<polyline class="bs" points="167.3,903.8 276.4,903.8 278,898.5 279.6,893 281.3,887.8 282.9,882.9 284.8,877.9 286.7,873.2 288.6,868.6 290.8,866.9 292.9,865.7 295.8,865.3 298.6,865 301,865.6 303.3,866.2 305.7,867 308,868.1 310.3,869.6 312.5,871.5 314.8,873.5 317.1,875.7 320,879.1 322.8,883.2 325.7,887 328.6,890.2 331.4,893.2 334.3,895.7 337.2,897.9 340,899.9 342.9,901.4 345.7,902.5 348.6,903.4 351.4,903.8 353.9,903.8 356.4,903.8 358.9,903.8 361.4,903.8 363.8,903.8 366.3,903.8 368.8,903.8 371.3,903.8 373.8,903.8 376.3,903.8 378.8,903.8 381.3,903.8 383.7,903.8 386.2,903.8 388.7,903.8 391.2,903.8 393.7,903.8 396.2,903.8 398.7,903.8 401.2,903.8 403.7,903.8 406.1,903.8 408.6,903.8 411.1,903.8 413.6,903.8 416.1,903.8 418.6,903.8 421.1,903.8 423.6,903.8 426,903.8 428.5,903.8 431,903.8 433.5,903.8 436,903.8 438.5,903.8 441,903.8 443.5,903.8 446,903.8 448.4,903.8 450.9,903.8 453.4,903.8 455.9,903.8 458.4,903.8 460.9,903.8 463.4,903.8 465.9,903.8 468.3,903.8 470.8,903.8 473.3,903.8 475.8,903.8 478.3,903.8"/>
<polyline class="bd" points="167.3,903.8 248.6,903.8 251,901.9 253.3,900 255.7,898 258.1,896 260.5,894 262.9,891.4 265.8,886.7 268.6,881.4 271.5,876.7 274.3,872.9 277.2,870.1 280,867.9 282.9,866.4 285.7,865.4 288.6,864.6 291.4,864.3 293.8,864.4 296.2,864.7 298.6,865 301,865.6 303.3,866.2 305.7,867 308,868.1 310.3,869.6 312.5,871.5 314.8,873.5 317.1,875.7 320,879.1 322.8,883.2 325.7,887 328.6,890.2 331.4,893.2 334.3,895.7 337.2,897.9 340,899.9 342.9,901.4 345.7,902.5 348.6,903.4 351.4,903.8 353.9,903.8 356.4,903.8 358.9,903.8 361.4,903.8 363.8,903.8 366.3,903.8 368.8,903.8 371.3,903.8 373.8,903.8 376.3,903.8 378.8,903.8 381.3,903.8 383.7,903.8 386.2,903.8 388.7,903.8 391.2,903.8 393.7,903.8 396.2,903.8 398.7,903.8 401.2,903.8 403.7,903.8 406.1,903.8 408.6,903.8 411.1,903.8 413.6,903.8 416.1,903.8 418.6,903.8 421.1,903.8 423.6,903.8 426,903.8 428.5,903.8 431,903.8 433.5,903.8 436,903.8 438.5,903.8 441,903.8 443.5,903.8 446,903.8 448.4,903.8 450.9,903.8 453.4,903.8 455.9,903.8 458.4,903.8 460.9,903.8 463.4,903.8 465.9,903.8 468.3,903.8 470.8,903.8 473.3,903.8 475.8,903.8 478.3,903.8"/>
</g>
<path class="tick" d="M207.9 903.8v-4M207.9 498.3v4M262 903.8v-4M262 498.3v4M316 903.8v-4M316 498.3v4M370.1 903.8v-4M370.1 498.3v4M424.2 903.8v-4M424.2 498.3v4M478.3 903.8v-4M478.3 498.3v4M153.8 836.2h4M491.8 836.2h-4M153.8 768.6h4M491.8 768.6h-4M153.8 701h4M491.8 701h-4M153.8 633.5h4M491.8 633.5h-4M153.8 565.9h4M491.8 565.9h-4"/>
<rect class="box" x="153.8" y="498.3" width="338" height="405.5"/>
<g class="tl">
<text text-anchor="middle" transform="translate(153.8 944.6) scale(0.945 1.000)">0</text>
<text text-anchor="middle" transform="translate(207.9 944.6) scale(0.945 1.000)">4</text>
<text text-anchor="middle" transform="translate(262 944.6) scale(0.945 1.000)">8</text>
<text text-anchor="middle" transform="translate(316 944.6) scale(0.945 1.000)">12</text>
<text text-anchor="middle" transform="translate(370.1 944.6) scale(0.945 1.000)">16</text>
<text text-anchor="middle" transform="translate(424.2 944.6) scale(0.945 1.000)">20</text>
<text text-anchor="middle" transform="translate(478.3 944.6) scale(0.945 1.000)">24</text>
<text text-anchor="end" transform="translate(142.3 915.8) scale(0.945 1.000)">0</text>
<text text-anchor="end" transform="translate(142.3 848.2) scale(0.945 1.000)">100</text>
<text text-anchor="end" transform="translate(142.3 780.6) scale(0.945 1.000)">200</text>
<text text-anchor="end" transform="translate(142.3 713) scale(0.945 1.000)">300</text>
<text text-anchor="end" transform="translate(142.3 645.5) scale(0.945 1.000)">400</text>
<text text-anchor="end" transform="translate(142.3 577.9) scale(0.945 1.000)">500</text>
<text text-anchor="end" transform="translate(142.3 510.3) scale(0.945 1.000)">600</text>
</g>
<line class="lgs" x1="253.3" y1="540.3" x2="291" y2="540.3"/>
<text class="lg" transform="translate(294.2 541.9) scale(1.030 1.000)">I</text>
<text class="lg sub" transform="translate(305.1 560.8) scale(1.030 1.000)">s</text>
<text class="lg" transform="translate(331.1 541.9) scale(1.030 1.000)">high res.</text>
<line class="lgd" x1="252.6" y1="594.5" x2="286.4" y2="594.5" stroke-dasharray="12 8.5 13.3 10"/>
<text class="lg" transform="translate(294.2 596.1) scale(1.030 1.000)">I</text>
<text class="lg sub" transform="translate(305.1 615) scale(1.030 1.000)">s</text>
<text class="lg" transform="translate(331.1 596.1) scale(1.030 1.000)">low res.</text>
<text class="pl" x="195" y="565">2.3</text>
</g>
<g class="panel">
<rect x="601.3" y="498.3" width="337.3" height="405.5" fill="#fff"/>
<path class="grid" d="M655.3 498.3V903.8M709.2 498.3V903.8M763.2 498.3V903.8M817.2 498.3V903.8M871.1 498.3V903.8M925.1 498.3V903.8M601.3 845.9H938.6M601.3 787.9H938.6M601.3 730H938.6M601.3 672.1H938.6M601.3 614.2H938.6M601.3 556.2H938.6"/>
<clipPath id="cp11"><rect x="601.3" y="497.3" width="337.3" height="407.5"/></clipPath>
<g clip-path="url(#cp11)">
<polyline class="gd" points="616.2,651.2 618.7,652 621.1,652.8 623.5,653.6 625.9,654.4 628.4,655.2 630.8,656 633.2,656.8 635.6,657.6 638,658.4 640.5,659.2 642.9,660 645.3,660.8 647.7,661.5 650.2,662.3 652.6,663 655,663.8 657.5,664.5 660,665.2 662.5,665.9 665,666.6 667.5,667.3 670,668 672.5,668.6 675,669.3 677.5,670 680,670.6 682.5,671.3 685,672 695,668.8 697.5,665.3 700,661.9 702.5,658.5 705,655 707.5,651.3 710,647.6 712.5,643.7 715,639.9 717.5,636.1 720,632.5 722.5,628.9 725,625.4 727.5,621.9 730,618.5 732.5,615.3 735,612.5 737.5,609.9 740,607.5 742.5,605.2 745,603 747.5,600.9 750,598.8 752.5,596.9 755,595 757.5,593.1 760,591.2 762.5,589.3 765,587.7 767.5,586.2 770,585 772.5,584 775,583.1 777.5,582.4 780,582 782.5,581.8 785,581.6 787.5,581.5 790,581.3 792.5,581.3 795,581.2 797.5,581.5 800,582.2 802.5,583.3 805,584.6 807.5,586.2 810,588 812.5,589.8 815,591.6 817.5,593.4 820,595 822.5,596.6 825,598.2 827.5,599.9 830,601.6 832.5,603.3 835,605 837.5,606.7 840,608.5 842.5,610.2 845,612 847.5,613.7 850,615.5 852.5,617.1 855,618.8 857.5,620.3 860,621.8 862.5,623.3 865,624.8 867.5,626.2 870,627.5 872.5,628.8 875,630.1 877.5,631.4 880,632.6 882.5,633.6 885,634.5 887.5,635.2 890,635.8 892.5,636.3 895,636.8 897.5,637.2 900,637.7 902.5,638.2 905,638.8 907.5,639.4 910,640.1 912.5,640.8 915,641.5 917.5,642.3 920,643 922.5,643.8 925,644.5"/>
<polyline class="gs" points="615,742.5 617.5,743.2 620,743.9 622.5,744.6 625,745.4 627.5,746.1 630,746.8 632.5,747.6 635,748.3 637.5,749 640,749.7 642.5,750.4 645,751.1 647.5,751.8 650,752.5 652.5,753.1 655,753.8 657.5,754.4 660,755.1 662.5,755.9 665,756.6 667.5,757.4 670,758.1 672.5,758.7 675,759.2 677.5,759.6 680,759.9 682.5,760 685,759.8 687.5,759.3 690,758.6 692.5,757.8 695,757 697.5,756.2 700,752.5 702.5,748.6 705,744.8 707.5,741.1 710,737.5 712.5,733.9 715,730.3 717.5,726.8 720,723.4 722.5,720.3 725,717.5 727.5,715.1 730,712.8 732.5,710.7 735,708.7 737.5,706.9 740,705 742.5,703.2 745,701.5 747.5,699.9 750,698.3 752.5,696.7 755,695 757.5,693.1 760,690.9 762.5,688.7 765,686.6 767.5,684.9 770,683.8 772.5,682.9 775,682.3 777.5,682 780,682 782.5,682.1 785,682.2 787.5,682.3 790,682.5 792.5,682.8 795,683.4 797.5,684.2 800,685.2 802.5,686.3 805,687.5 807.5,688.8 810,690.1 812.5,691.3 815,692.5 817.5,693.6 820,694.8 822.5,696 825,697.2 827.5,698.5 830,699.8 832.5,701.1 835,702.5 837.5,704 840,705.6 842.5,707.2 845,708.9 847.5,710.6 850,712.2 852.5,713.7 855,715 857.5,716.2 860,717.3 862.5,718.4 865,719.4 867.5,720.3 870,721.2 872.5,722.1 875,722.9 877.5,723.7 880,724.5 882.5,725.3 885,726 887.5,726.7 890,727.4 892.5,728.1 895,728.8 897.5,729.4 900,730.1 902.5,730.7 905,731.4 907.5,732 910,732.6 912.5,733.2 915,733.8 917.5,734.4 920,735 922.5,735.6 925,736.2"/>
<polyline class="bd" points="615,793 617.5,794.1 620,795.2 622.5,796.3 625,797.4 627.5,798.5 630,799.6 632.5,800.8 635,801.9 637.5,803 640,804.1 642.5,805.1 645,806.2 647.5,807.2 650,808.2 652.5,809.1 655,810 657.5,810.8 660,811.7 662.5,812.4 665,813.2 667.5,813.9 670,814.6 672.5,815.4 675,816.1 677.5,816.8 680,817.5 682.5,818.2 685,818.9 687.5,819.7 690,820.4 692.5,821.1 695,821.8 697.5,822.5 700,819.1 702.5,815.9 705,812.6 707.5,809 710,805 712.5,800.1 715,794.4 717.5,788.3 720,782.5 722.1,777.6 724.2,772.5 726.2,767.4 728.3,762.6 730.4,758.4 732.5,755 735,751.8 737.5,748.9 740,746.4 742.5,744.3 745,742.5 747.5,741 750,739.8 752.5,738.7 755,737.6 757.5,736.7 760,735.8 762.5,734.8 765,733.8 767.5,732.6 770,731.4 772.5,730.1 775,728.9 777.5,727.7 780,726.6 782.5,725.7 785,725 787.5,724.4 790,723.8 792.5,723.3 795,722.9 797.5,722.6 800,722.5 802.5,722.6 805,723 807.5,723.6 810,724.4 812.5,725.3 815,726.2 817.5,727.7 820,730 822.5,732.7 825,735.7 827.5,738.6 830,741.2 832.5,743.6 835,746 837.5,748.4 840,750.8 842.5,753.1 845,755.4 847.5,757.6 850,759.8 852.5,761.8 855,763.8 857.5,765.6 860,767.4 862.5,769.1 865,770.8 867.5,772.3 870,773.8 872.5,775.1 875,776.4 877.5,777.6 880,778.8 882.5,779.9 885,781 887.5,782.1 890,783.1 892.5,784.1 895,785 897.5,785.9 900,786.8 902.5,787.6 905,788.4 907.5,789.2 910,790 912.5,790.7 915,791.5 917.5,792.2 920,793 922.5,793.7 925,794.5"/>
<polyline class="bs" points="615,865.5 617.5,866.3 620,867.2 622.5,868 625,868.8 627.5,869.7 630,870.5 632.5,871.3 635,872.2 637.5,873 640,873.8 642.5,874.7 645,875.5 647.5,876.3 650,877.1 652.5,877.9 655,878.8 657.5,879.6 660,880.3 662.5,881.1 665,881.9 667.5,882.7 670,883.5 672.5,884.3 675,885 677.5,885.8 680,886.6 682.5,887.4 685,888.1 687.5,888.9 690,889.7 692.5,890.4 695,891.2 697.5,892 700,889 702.5,886.1 705,883.2 707.5,880 710,876.2 712.1,872.3 714.2,867.4 716.2,862.1 718.3,856.7 720.4,851.7 722.5,847.5 725,843.3 727.5,839.3 730,835.7 732.5,832.6 735,830 737.5,827.9 740,826 742.5,824.3 745,822.8 747.5,821.4 750,820 752.5,818.7 755,817.5 757.5,816.3 760,815.2 762.5,814.1 765,813.1 767.5,812.1 770,811.2 772.5,810.3 775,809.4 777.5,808.4 780,807.5 782.5,806.7 785,806.1 787.5,805.7 790,805.5 792.5,805.5 795,805.5 797.5,805.5 800,805.5 802.5,805.5 805,805.5 807.5,805.5 810,805.5 812.5,805.5 815,805.5 817.5,807.9 820,810.4 822.5,812.9 825,815.3 827.5,817.7 830,820 832.5,822.2 835,824.5 837.5,826.8 840,829 842.5,831.2 845,833.3 847.5,835.4 850,837.3 852.5,839.2 855,840.9 857.5,842.5 860,843.9 862.5,845.3 865,846.5 867.5,847.7 870,848.8 872.5,849.8 875,850.8 877.5,851.7 880,852.6 882.5,853.5 885,854.4 887.5,855.2 890,856 892.5,856.8 895,857.5 897.5,858.2 900,858.9 902.5,859.6 905,860.2 907.5,860.8 910,861.4 912.5,862 915,862.6 917.5,863.2 920,863.8 922.5,864.4 925,865"/>
</g>
<path class="tick" d="M655.3 903.8v-4M655.3 498.3v4M709.2 903.8v-4M709.2 498.3v4M763.2 903.8v-4M763.2 498.3v4M817.2 903.8v-4M817.2 498.3v4M871.1 903.8v-4M871.1 498.3v4M925.1 903.8v-4M925.1 498.3v4M601.3 845.9h4M938.6 845.9h-4M601.3 787.9h4M938.6 787.9h-4M601.3 730h4M938.6 730h-4M601.3 672.1h4M938.6 672.1h-4M601.3 614.2h4M938.6 614.2h-4M601.3 556.2h4M938.6 556.2h-4"/>
<rect class="box" x="601.3" y="498.3" width="337.3" height="405.5"/>
<g class="tl">
<text text-anchor="middle" transform="translate(601.3 944.6) scale(0.945 1.000)">0</text>
<text text-anchor="middle" transform="translate(655.3 944.6) scale(0.945 1.000)">4</text>
<text text-anchor="middle" transform="translate(709.2 944.6) scale(0.945 1.000)">8</text>
<text text-anchor="middle" transform="translate(763.2 944.6) scale(0.945 1.000)">12</text>
<text text-anchor="middle" transform="translate(817.2 944.6) scale(0.945 1.000)">16</text>
<text text-anchor="middle" transform="translate(871.1 944.6) scale(0.945 1.000)">20</text>
<text text-anchor="middle" transform="translate(925.1 944.6) scale(0.945 1.000)">24</text>
<text text-anchor="end" transform="translate(589.8 915.8) scale(0.945 1.000)">160</text>
<text text-anchor="end" transform="translate(589.8 857.9) scale(0.945 1.000)">180</text>
<text text-anchor="end" transform="translate(589.8 799.9) scale(0.945 1.000)">200</text>
<text text-anchor="end" transform="translate(589.8 742) scale(0.945 1.000)">220</text>
<text text-anchor="end" transform="translate(589.8 684.1) scale(0.945 1.000)">240</text>
<text text-anchor="end" transform="translate(589.8 626.2) scale(0.945 1.000)">260</text>
<text text-anchor="end" transform="translate(589.8 568.2) scale(0.945 1.000)">280</text>
<text text-anchor="end" transform="translate(589.8 510.3) scale(0.945 1.000)">300</text>
</g>
<line class="lgs" x1="680.8" y1="540.3" x2="718.8" y2="540.3"/>
<text class="lg" transform="translate(722.6 541.9) scale(1.030 1.000)">L</text>
<text class="lg sub" transform="translate(742.6 560.8) scale(1.030 1.000)">in</text>
<text class="lg" transform="translate(777.3 541.9) scale(1.030 1.000)">high res.</text>
<line class="lgd" x1="680.1" y1="594.5" x2="712.3" y2="594.5" stroke-dasharray="11.3 8.3"/>
<text class="lg" transform="translate(722.6 596.1) scale(1.030 1.000)">L</text>
<text class="lg sub" transform="translate(742.6 615) scale(1.030 1.000)">in</text>
<text class="lg" transform="translate(777.3 596.1) scale(1.030 1.000)">low res.</text>
</g>
<g class="panel">
<rect x="1051.4" y="498.3" width="337.2" height="405.5" fill="#fff"/>
<path class="grid" d="M1105.4 498.3V903.8M1159.3 498.3V903.8M1213.3 498.3V903.8M1267.2 498.3V903.8M1321.2 498.3V903.8M1375.1 498.3V903.8M1051.4 813.7H1388.6M1051.4 723.6H1388.6M1051.4 633.5H1388.6M1051.4 543.4H1388.6"/>
<clipPath id="cp12"><rect x="1051.4" y="497.3" width="337.2" height="407.5"/></clipPath>
<g clip-path="url(#cp12)">
<polyline class="gs" points="1065,641.2 1067.5,641.6 1070,642 1072.5,642.4 1075,642.9 1077.5,643.3 1080,643.8 1082.5,644.2 1085,644.6 1087.5,645 1090,645.4 1092.5,645.8 1095,646.1 1097.5,646.4 1100,646.7 1102.5,646.9 1105,647 1107.4,647.1 1109.8,647.2 1112.3,647.3 1114.7,647.3 1117.1,647.4 1119.5,647.5 1122,647.5 1124.4,647.6 1126.8,647.6 1129.2,647.7 1131.6,647.7 1134.1,647.8 1136.5,647.8 1138.9,647.9 1141.3,647.9 1143.8,648 1145.6,643.3 1147.5,638.6 1149.4,633.9 1151.2,629.2 1153.1,624.6 1155,620 1157.1,614.9 1159.3,609.8 1161.4,604.8 1163.6,599.9 1165.7,594.9 1167.9,590 1170,585 1172.1,579.9 1174.3,574.8 1176.4,569.6 1178.6,564.4 1180.7,559.4 1182.9,554.6 1185,550 1187.5,545 1190,540.1 1192.5,535.5 1195,531 1197.5,526.7 1200,522.5 1202.5,518.6 1205,514.8 1207.5,511.2 1210,507.7 1212.5,504.1 1215,500.5 1225,500 1227.5,503.7 1230,507.4 1232.5,511.1 1235,515 1237.5,519 1240,523.2 1242.5,527.4 1245,531.7 1247.5,536.1 1250,540.6 1252.5,545 1255,549.6 1257.5,554.3 1260,559.1 1262.5,563.9 1265,568.7 1267.5,573.2 1270,577.5 1272.5,581.7 1275,585.8 1277.5,589.8 1280,593.5 1282.5,597 1285,600 1287.5,602.7 1290,605.2 1292.5,607.6 1295,609.8 1297.5,611.9 1300,613.9 1302.5,615.7 1305,617.5 1307.5,619.2 1310,620.9 1312.5,622.4 1315,623.8 1317.5,625.1 1320,626.2 1322.5,627.2 1325,628.1 1327.5,629 1330,629.8 1332.5,630.5 1335,631.2 1337.5,631.9 1340,632.5 1342.5,633.1 1345,633.8 1347.5,634.4 1350,634.9 1352.5,635.5 1355,636 1357.5,636.5 1360,637 1362.5,637.5 1365,638 1367.5,638.5 1370,639 1372.5,639.5 1375,640"/>
<polyline class="bs2" points="1063.8,649.2 1066.3,649.5 1068.9,649.8 1071.5,650.1 1074.1,650.4 1076.6,650.7 1079.2,651 1081.8,651.3 1084.4,651.5 1087,651.8 1089.5,652.1 1092.1,652.4 1094.7,652.7 1097.3,652.9 1099.8,653.2 1102.4,653.5 1105,653.8 1107.5,654 1110,654.2 1112.5,654.5 1115,654.7 1117.5,655 1120,655.2 1122.5,655.4 1125,655.7 1127.5,655.9 1130,656.1 1132.5,656.3 1135,656.6 1137.5,656.8 1140,657 1142.5,657.3 1145,657.5 1147.5,655.7 1150,654.1 1152.5,652.5 1155,650.8 1157.5,648.7 1160,646.2 1162.5,642.7 1165,638.1 1167.5,632.8 1170,627.4 1172.5,622.5 1175,617.9 1177.5,613.3 1180,608.7 1182.5,604.4 1185,600.6 1187.5,597.5 1190,595.1 1192.5,593.2 1195,591.5 1197.5,589.7 1200,587.5 1202.5,584.5 1205,580.7 1207.5,576.9 1210,573.5 1212.5,571.2 1214.8,570 1217.1,569 1219.4,568.1 1221.7,567.4 1224,566.6 1226.2,565.8 1228.5,566.8 1230.8,567.8 1233.1,568.8 1235.4,569.9 1237.7,571.1 1240,572.5 1242.5,574.4 1245,576.8 1247.5,579.6 1250,582.6 1252.5,585.8 1255,589.1 1257.5,592.5 1260,596.1 1262.5,600.2 1265,604.4 1267.5,608.6 1270,612.5 1272.5,616.3 1275,620.1 1277.5,623.5 1280,626.2 1282.5,628.5 1285,630.5 1287.5,632.3 1290,633.9 1292.5,635.2 1295,636.2 1297.5,637.1 1300,637.9 1302.5,638.6 1305,639.2 1307.5,639.7 1310,640.3 1312.5,640.7 1315,641.2 1317.5,641.6 1320,642 1322.5,642.4 1325,642.7 1327.5,643 1330,643.3 1332.5,643.6 1335,643.9 1337.5,644.2 1340,644.4 1342.5,644.7 1345,645 1347.5,645.3 1350,645.6 1352.5,645.9 1355,646.2 1357.5,646.6 1360,646.9 1362.5,647.2 1365,647.5 1367.5,647.8 1370,648.1 1372.5,648.4 1375,648.8"/>
<polyline class="gd2" points="1065,793.8 1067.5,793.9 1070,794.1 1072.5,794.2 1075,794.4 1077.5,794.5 1080,794.7 1082.5,794.8 1085,795 1087.5,795.2 1090,795.3 1092.5,795.5 1095,795.6 1097.5,795.8 1100,795.9 1102.5,796.1 1105,796.2 1107.4,796.4 1109.8,796.6 1112.3,796.7 1114.7,796.9 1117.1,797 1119.5,797.2 1122,797.3 1124.4,797.5 1126.8,797.7 1129.2,797.8 1131.6,798 1134.1,798.1 1136.5,798.3 1138.9,798.4 1141.3,798.6 1143.8,798.8 1146.5,794.8 1149.2,790.7 1151.9,786.7 1154.6,782.7 1157.3,778.8 1160,775 1162.5,771.5 1165,768.1 1167.5,764.7 1170,761.3 1172.5,758 1175,754.7 1177.5,751.5 1180,748.4 1182.5,745.4 1185,742.5 1187.5,739.7 1190,737 1192.5,734.4 1195,731.9 1197.5,729.4 1200,727 1202.5,724.6 1205,722.2 1207.5,719.8 1210,717.4 1212.5,715 1215,712.5 1225,712.5 1227.5,715 1230,717.5 1232.5,720 1235,722.5 1237.5,725 1240,727.5 1242.5,730 1245,732.5 1247.5,735 1250,737.6 1252.5,740.2 1255,742.8 1257.5,745.3 1260,747.9 1262.5,750.4 1265,752.9 1267.5,755.2 1270,757.5 1272.5,759.8 1275,762 1277.5,764.3 1280,766.6 1282.5,768.8 1285,770.8 1287.5,772.8 1290,774.6 1292.5,776.2 1295,777.5 1297.5,778.7 1300,779.8 1302.5,780.9 1305,781.9 1307.5,782.8 1310,783.7 1312.5,784.4 1315,785.1 1317.5,785.7 1320,786.2 1322.5,786.7 1325,787.1 1327.5,787.5 1330,787.9 1332.5,788.2 1335,788.5 1337.5,788.8 1340,789 1342.5,789.3 1345,789.5 1347.5,789.7 1350,789.9 1352.5,790.1 1355,790.3 1357.5,790.4 1360,790.6 1362.5,790.8 1365,790.9 1367.5,791.1 1370,791.2"/>
<polyline class="bd2" points="1065,799.5 1067.5,799.5 1070,799.6 1072.5,799.6 1075,799.6 1077.5,799.6 1080,799.7 1082.5,799.7 1085,799.7 1087.5,799.7 1090,799.8 1092.5,799.8 1095,799.8 1097.5,799.9 1100,799.9 1102.5,800 1105,800 1107.5,800.1 1110,800.2 1112.5,800.3 1115,800.5 1117.5,800.7 1120,800.9 1122.5,801.1 1125,801.4 1127.5,801.6 1130,801.8 1132.5,802 1135,802.1 1137.5,802.3 1140,802.4 1142.5,802.5 1145,802.5 1147.5,802.2 1150,801.4 1152.5,800.3 1155,798.9 1157.5,797.5 1160,795.6 1162.5,792.9 1165,789.8 1167.5,786.4 1170,783.1 1172.5,780 1175,777.5 1177.5,775.3 1180,773 1182.5,770.9 1185,768.9 1187.5,767.3 1190,766.1 1192.5,765.5 1195,765.3 1197.5,765.1 1200,765 1202.5,763 1205,760.8 1207.5,758.6 1210,756.6 1212.5,754.9 1215,753.8 1217.5,752.9 1220,752 1222.5,751.4 1225,750.9 1227.5,750.8 1230,750.9 1232.5,751.4 1235,752.1 1237.5,752.9 1240,753.8 1242.5,754.7 1245,755.9 1247.5,757.2 1250,758.7 1252.5,760.3 1255,762 1257.5,763.8 1260,765.7 1262.5,767.9 1265,770.3 1267.5,772.7 1270,775 1272.5,777.4 1275,779.9 1277.5,782.4 1280,784.6 1282.5,786.2 1285,787.6 1287.5,788.8 1290,789.8 1292.5,790.7 1295,791.2 1297.5,791.6 1300,792 1302.5,792.3 1305,792.5 1307.5,792.8 1310,793 1312.5,793.2 1315,793.4 1317.5,793.6 1320,793.8 1322.5,793.9 1325,794.1 1327.5,794.3 1330,794.5 1332.5,794.7 1335,794.8 1337.5,795 1340,795.2 1342.5,795.3 1345,795.5 1347.5,795.7 1350,795.9 1352.5,796 1355,796.2 1357.5,796.4 1360,796.6 1362.5,796.8 1365,797 1367.5,797.1 1370,797.3 1372.5,797.5"/>
</g>
<path class="tick" d="M1105.4 903.8v-4M1105.4 498.3v4M1159.3 903.8v-4M1159.3 498.3v4M1213.3 903.8v-4M1213.3 498.3v4M1267.2 903.8v-4M1267.2 498.3v4M1321.2 903.8v-4M1321.2 498.3v4M1375.1 903.8v-4M1375.1 498.3v4M1051.4 813.7h4M1388.6 813.7h-4M1051.4 723.6h4M1388.6 723.6h-4M1051.4 633.5h4M1388.6 633.5h-4M1051.4 543.4h4M1388.6 543.4h-4"/>
<rect class="box" x="1051.4" y="498.3" width="337.2" height="405.5"/>
<g class="tl">
<text text-anchor="middle" transform="translate(1051.4 944.6) scale(0.945 1.000)">0</text>
<text text-anchor="middle" transform="translate(1105.4 944.6) scale(0.945 1.000)">4</text>
<text text-anchor="middle" transform="translate(1159.3 944.6) scale(0.945 1.000)">8</text>
<text text-anchor="middle" transform="translate(1213.3 944.6) scale(0.945 1.000)">12</text>
<text text-anchor="middle" transform="translate(1267.2 944.6) scale(0.945 1.000)">16</text>
<text text-anchor="middle" transform="translate(1321.2 944.6) scale(0.945 1.000)">20</text>
<text text-anchor="middle" transform="translate(1375.1 944.6) scale(0.945 1.000)">24</text>
<text text-anchor="end" transform="translate(1039.9 915.8) scale(0.945 1.000)">20</text>
<text text-anchor="end" transform="translate(1039.9 825.7) scale(0.945 1.000)">40</text>
<text text-anchor="end" transform="translate(1039.9 735.6) scale(0.945 1.000)">60</text>
<text text-anchor="end" transform="translate(1039.9 645.5) scale(0.945 1.000)">80</text>
<text text-anchor="end" transform="translate(1039.9 555.4) scale(0.945 1.000)">100</text>
</g>
<line class="lgs" x1="1138.4" y1="540.3" x2="1174.9" y2="540.3"/>
<text class="lg" transform="translate(1179.7 541.9) scale(1.030 1.000)">L</text>
<text class="lg sub" transform="translate(1199.7 560.8) scale(1.030 1.000)">d</text>
<text class="lg" transform="translate(1227.9 541.9) scale(1.030 1.000)">high res.</text>
<line class="lgd" x1="1137.7" y1="594.5" x2="1171.7" y2="594.5" stroke-dasharray="10.5 9.8 12.5 9"/>
<text class="lg" transform="translate(1179.7 596.1) scale(1.030 1.000)">L</text>
<text class="lg sub" transform="translate(1199.7 615) scale(1.030 1.000)">d</text>
<text class="lg" transform="translate(1227.9 596.1) scale(1.030 1.000)">low res.</text>
</g>
<g class="panel">
<rect x="160" y="975.7" width="336.2" height="379.8" fill="#fff"/>
<path class="grid" d="M213.8 975.7V1355.5M267.6 975.7V1355.5M321.4 975.7V1355.5M375.2 975.7V1355.5M429 975.7V1355.5M482.8 975.7V1355.5M160 1228.9H496.2M160 1102.3H496.2"/>
<clipPath id="cp20"><rect x="160" y="974.7" width="336.2" height="381.8"/></clipPath>
<g clip-path="url(#cp20)">
<polyline class="gs" points="173.4,1355.5 267.9,1355.5 268.2,1350.4 268.4,1345.2 268.7,1340 268.9,1334.8 269.2,1329.6 269.4,1324.4 269.7,1319.3 269.9,1314.3 270.2,1309.4 270.4,1304.6 270.7,1300 271,1294.4 271.4,1289 271.7,1283.9 272,1278.9 272.3,1274 272.7,1269.2 273,1264.3 273.3,1259.3 273.6,1254.1 274,1248.6 274.3,1242.9 274.5,1238.5 274.8,1233.8 275,1228.9 275.2,1223.9 275.5,1218.9 275.7,1213.8 275.9,1209 276.2,1204.3 276.4,1200 276.8,1194.2 277.1,1188.6 277.4,1183.5 277.7,1178.4 278,1173.3 278.4,1168.2 278.7,1163.1 279,1158 279.3,1152.9 280.1,1148 281,1143.1 281.8,1138.1 282.6,1133.2 283.5,1128.6 284.3,1124.3 285.4,1118.9 286.6,1113.9 287.7,1109.2 288.9,1104.6 290,1100 291.4,1094.4 292.9,1089 294.3,1083.6 297.1,1081.2 300,1079.3 302.6,1078.4 305.3,1077.8 307.9,1077.1 310.5,1081.4 313.1,1085.6 315.7,1090 318.1,1093.8 320.5,1097.6 322.9,1102.9 323.9,1106.3 324.9,1110.7 326,1115.8 327,1121 327.8,1125 328.5,1129.4 329.2,1134 330,1138.6 330.8,1143.5 331.6,1148.5 332.4,1153.5 333.3,1158.5 334.1,1163.7 334.9,1168.9 335.7,1174.3 336.4,1179.2 337.1,1184.1 337.9,1189.3 338.6,1194.5 339.3,1200 339.9,1204.5 340.4,1209.2 341,1214.1 341.5,1219.1 342.1,1224.2 342.6,1229.1 343.2,1234 343.7,1238.6 344.3,1242.9 345,1248.2 345.7,1253.5 346.5,1258.5 347.2,1263.3 347.9,1267.6 348.6,1271.4 350,1277.7 351.5,1283.1 352.9,1288 354.3,1292.9 355.7,1298 357.1,1303.1 358.6,1308 360,1312.7 361.4,1317 363.3,1322.2 365.2,1327 367.1,1331.4 370,1337.9 372.9,1342.9 375.3,1345.3 377.6,1347.1 380,1348.6 382.5,1350.1 385,1351.6 387.5,1352.8 390,1353.6 392.3,1354.2 394.6,1354.7 396.8,1355.1 399.1,1355.4 401.4,1355.5 403.9,1355.5 406.3,1355.5 408.8,1355.5 411.3,1355.5 413.7,1355.5 416.2,1355.5 418.7,1355.5 421.1,1355.5 423.6,1355.5 426.1,1355.5 428.5,1355.5 431,1355.5 433.5,1355.5 435.9,1355.5 438.4,1355.5 440.9,1355.5 443.3,1355.5 445.8,1355.5 448.3,1355.5 450.7,1355.5 453.2,1355.5 455.7,1355.5 458.1,1355.5 460.6,1355.5 463.1,1355.5 465.5,1355.5 468,1355.5 470.5,1355.5 472.9,1355.5 475.4,1355.5 477.9,1355.5 480.3,1355.5 482.8,1355.5"/>
<polyline class="gd" points="173.4,1355.5 253.6,1355.5 254,1350.4 254.5,1345.2 254.9,1340.1 255.4,1334.9 255.8,1329.8 256.2,1324.6 256.7,1319.5 257.1,1314.3 257.5,1309.6 257.9,1304.8 258.3,1300 258.7,1295.3 259.1,1290.5 259.5,1285.7 259.9,1280.9 260.3,1276.2 260.7,1271.4 261.1,1266.8 261.5,1262.4 261.9,1258.1 262.3,1253.9 262.7,1249.5 263.1,1244.9 263.5,1239.9 263.9,1234.5 264.3,1228.6 264.5,1224.3 264.8,1218.9 265,1213.2 265.2,1207.8 265.5,1203.1 265.7,1200 266.4,1195 267.1,1191.4 268.1,1186.5 269,1182.1 270,1178.6 272.1,1173.4 274.3,1168.6 276,1163.7 277.6,1158.3 279.3,1152.9 280.1,1148 281,1143.1 281.8,1138.1 282.6,1133.2 283.5,1128.6 284.3,1124.3 285.4,1118.9 286.6,1113.9 287.7,1109.2 288.9,1104.6 290,1100 291.4,1094.4 292.9,1089 294.3,1083.6 297.1,1081.2 300,1079.3 302.6,1078.4 305.3,1077.8 307.9,1077.1 310.5,1081.4 313.1,1085.6 315.7,1090 318.1,1093.8 320.5,1097.6 322.9,1102.9 323.9,1106.3 324.9,1110.7 326,1115.8 327,1121 327.8,1125 328.5,1129.4 329.2,1134 330,1138.6 330.8,1143.5 331.6,1148.5 332.4,1153.5 333.3,1158.5 334.1,1163.7 334.9,1168.9 335.7,1174.3 336.4,1179.2 337.1,1184.1 337.9,1189.3 338.6,1194.5 339.3,1200 339.9,1204.5 340.4,1209.2 341,1214.1 341.5,1219.1 342.1,1224.2 342.6,1229.1 343.2,1234 343.7,1238.6 344.3,1242.9 345,1248.2 345.7,1253.5 346.5,1258.5 347.2,1263.3 347.9,1267.6 348.6,1271.4 350,1277.7 351.5,1283.1 352.9,1288 354.3,1292.9 355.7,1298 357.1,1303.1 358.6,1308 360,1312.7 361.4,1317 363.3,1322.2 365.2,1327 367.1,1331.4 370,1337.9 372.9,1342.9 375.3,1345.3 377.6,1347.1 380,1348.6 382.5,1350.1 385,1351.6 387.5,1352.8 390,1353.6 392.3,1354.2 394.6,1354.7 396.8,1355.1 399.1,1355.4 401.4,1355.5 403.9,1355.5 406.3,1355.5 408.8,1355.5 411.3,1355.5 413.7,1355.5 416.2,1355.5 418.7,1355.5 421.1,1355.5 423.6,1355.5 426.1,1355.5 428.5,1355.5 431,1355.5 433.5,1355.5 435.9,1355.5 438.4,1355.5 440.9,1355.5 443.3,1355.5 445.8,1355.5 448.3,1355.5 450.7,1355.5 453.2,1355.5 455.7,1355.5 458.1,1355.5 460.6,1355.5 463.1,1355.5 465.5,1355.5 468,1355.5 470.5,1355.5 472.9,1355.5 475.4,1355.5 477.9,1355.5 480.3,1355.5 482.8,1355.5"/>
<polyline class="bs" points="173.4,1355.5 295,1355.5 296.9,1350.5 298.7,1345.5 300.6,1340.4 302.4,1335.7 304.3,1331.4 307.2,1325.6 310,1320.3 312.9,1315.7 315.7,1311.8 318.6,1308.4 321.4,1305 332.9,1302 336.4,1305.7 338.1,1309.7 339.7,1315.4 341.4,1321.4 342.8,1327 344.3,1332.8 345.7,1337 348.5,1341.4 351.4,1344.3 353.8,1346 356.2,1347.3 358.6,1348.6 361.4,1350.4 364.2,1352.2 367,1353.6 369.9,1354.9 372.9,1355.5 375.4,1355.5 377.9,1355.5 380.4,1355.5 382.9,1355.5 385.4,1355.5 387.9,1355.5 390.4,1355.5 392.9,1355.5 395.4,1355.5 397.9,1355.5 400.4,1355.5 402.9,1355.5 405.4,1355.5 407.9,1355.5 410.4,1355.5 412.9,1355.5 415.4,1355.5 417.9,1355.5 420.4,1355.5 422.9,1355.5 425.4,1355.5 427.9,1355.5 430.3,1355.5 432.8,1355.5 435.3,1355.5 437.8,1355.5 440.3,1355.5 442.8,1355.5 445.3,1355.5 447.8,1355.5 450.3,1355.5 452.8,1355.5 455.3,1355.5 457.8,1355.5 460.3,1355.5 462.8,1355.5 465.3,1355.5 467.8,1355.5 470.3,1355.5 472.8,1355.5 475.3,1355.5 477.8,1355.5 480.3,1355.5 482.8,1355.5"/>
<polyline class="bd" points="173.4,1355.5 267.1,1355.5 269,1350.2 271,1344.9 272.9,1340 275.7,1333.9 278.6,1328.4 281.4,1322.9 284.3,1316.9 287.1,1310.9 290,1305.7 292.5,1302 295,1298.6 297.5,1295.6 300,1292.9 302.3,1290.5 304.6,1288.3 306.8,1286.2 309.1,1284.4 311.4,1282.9 313.9,1281.6 316.4,1280.6 318.9,1279.6 321.4,1278.6 324.2,1282 327.1,1285.7 330,1289.9 332.8,1294.6 335.7,1300 337.6,1304.6 339.5,1309.7 341.4,1314.3 344.3,1319.4 347.1,1323.9 350,1328.6 352.9,1334.4 355.7,1340 358.5,1344.8 361.4,1348.6 364.3,1351.2 367.1,1353.4 370,1355.5 482.8,1355.5"/>
</g>
<path class="tick" d="M213.8 1355.5v-4M213.8 975.7v4M267.6 1355.5v-4M267.6 975.7v4M321.4 1355.5v-4M321.4 975.7v4M375.2 1355.5v-4M375.2 975.7v4M429 1355.5v-4M429 975.7v4M482.8 1355.5v-4M482.8 975.7v4M160 1228.9h4M496.2 1228.9h-4M160 1102.3h4M496.2 1102.3h-4"/>
<rect class="box" x="160" y="975.7" width="336.2" height="379.8"/>
<g class="tl">
<text text-anchor="middle" transform="translate(160 1394.9) scale(0.945 1.000)">0</text>
<text text-anchor="middle" transform="translate(213.8 1394.9) scale(0.945 1.000)">4</text>
<text text-anchor="middle" transform="translate(267.6 1394.9) scale(0.945 1.000)">8</text>
<text text-anchor="middle" transform="translate(321.4 1394.9) scale(0.945 1.000)">12</text>
<text text-anchor="middle" transform="translate(375.2 1394.9) scale(0.945 1.000)">16</text>
<text text-anchor="middle" transform="translate(429 1394.9) scale(0.945 1.000)">20</text>
<text text-anchor="middle" transform="translate(482.8 1394.9) scale(0.945 1.000)">24</text>
<text text-anchor="end" transform="translate(148.5 1367.5) scale(0.945 1.000)">0</text>
<text text-anchor="end" transform="translate(148.5 1240.9) scale(0.945 1.000)">200</text>
<text text-anchor="end" transform="translate(148.5 1114.3) scale(0.945 1.000)">400</text>
<text text-anchor="end" transform="translate(148.5 987.7) scale(0.945 1.000)">600</text>
</g>
<line class="lgs" x1="259.5" y1="1017.7" x2="297.2" y2="1017.7"/>
<text class="lg" transform="translate(300.4 1019.3) scale(1.030 1.000)">I</text>
<text class="lg sub" transform="translate(311.3 1038.2) scale(1.030 1.000)">s</text>
<text class="lg" transform="translate(337.3 1019.3) scale(1.030 1.000)">high res.</text>
<line class="lgd" x1="258.8" y1="1071.9" x2="292.6" y2="1071.9" stroke-dasharray="12 8.5 13.3 10"/>
<text class="lg" transform="translate(300.4 1073.5) scale(1.030 1.000)">I</text>
<text class="lg sub" transform="translate(311.3 1092.4) scale(1.030 1.000)">s</text>
<text class="lg" transform="translate(337.3 1073.5) scale(1.030 1.000)">low res.</text>
<text class="pl" x="192.8" y="1033.6">1.2</text>
</g>
<g class="panel">
<rect x="607.3" y="975.7" width="336.7" height="379.8" fill="#fff"/>
<path class="grid" d="M661.2 975.7V1355.5M715 975.7V1355.5M768.9 975.7V1355.5M822.8 975.7V1355.5M876.7 975.7V1355.5M930.5 975.7V1355.5M607.3 1247H944M607.3 1111.3H944"/>
<clipPath id="cp21"><rect x="607.3" y="974.7" width="336.7" height="381.8"/></clipPath>
<g clip-path="url(#cp21)">
<polyline class="gd" points="622.5,1108 625,1108.7 627.5,1109.4 630,1110.2 632.5,1110.9 635,1111.6 637.5,1112.4 640,1113.1 642.5,1113.8 645,1114.6 647.5,1115.3 650,1116 652.5,1116.7 655,1117.4 657.5,1118.1 660,1118.8 662.5,1119.5 665,1120.2 667.5,1121 670,1121.8 672.5,1122.6 675,1123.4 677.5,1124.1 680,1124.7 682.5,1125.1 685,1125.4 687.5,1125.5 690,1125.5 692.5,1125.4 695,1125.2 697.5,1125.1 700,1125 702.5,1121.5 705,1118.1 707.5,1114.6 710,1111.1 712.5,1107.5 715,1103.6 717.5,1099.5 720,1095.3 722.5,1091.1 725,1087 727.5,1083.3 730,1080 732.5,1077.1 735,1074.4 737.5,1071.8 740,1069.5 742.5,1067.2 745,1065 747.5,1062.9 750,1060.8 752.5,1058.9 755,1057 757.5,1055.1 760,1053.4 762.5,1051.7 765,1050 767.5,1048.4 770,1046.9 772.5,1045.5 775,1044.1 777.5,1042.7 780,1041.2 782.5,1041.4 785,1041.6 787.5,1041.8 790,1042 792.5,1042.4 795,1042.9 797.5,1043.5 800,1044.3 802.5,1045.1 805,1046 807.5,1047 810,1048 812.5,1049 815,1050 817.5,1051 820,1052.1 822.5,1053.2 825,1054.4 827.5,1055.6 830,1056.9 832.5,1058.3 835,1059.6 837.5,1061.1 840,1062.5 842.5,1064 845,1065.7 847.5,1067.5 850,1069.4 852.5,1071.2 855,1073 857.5,1074.7 860,1076.2 862.5,1077.7 865,1079 867.5,1080.3 870,1081.5 872.5,1082.7 875,1083.8 877.5,1084.8 880,1085.8 882.5,1086.7 885,1087.6 887.5,1088.5 890,1089.3 892.5,1090.2 895,1091 897.5,1091.7 900,1092.5 902.5,1093.2 905,1094 907.5,1094.7 910,1095.3 912.5,1096 915,1096.6 917.5,1097.3 920,1097.9 922.5,1098.6 925,1099.2 927.5,1099.8 930,1100.5"/>
<polyline class="gs" points="622.5,1178.8 625,1179.4 627.5,1180.1 630,1180.8 632.5,1181.4 635,1182.1 637.5,1182.8 640,1183.5 642.5,1184.1 645,1184.8 647.5,1185.5 650,1186.1 652.5,1186.8 655,1187.5 657.5,1188.1 660,1188.8 662.5,1189.4 665,1190.2 667.5,1191 670,1191.9 672.5,1192.7 675,1193.4 677.5,1194.1 680,1194.6 682.5,1194.9 685,1195 687.7,1195 690.4,1194.9 693.1,1194.7 695.8,1194.6 698.5,1194.4 701.2,1194.2 703.5,1191 705.8,1187.7 708.1,1184.4 710.4,1181.2 712.7,1178 715,1175 717.5,1171.9 720,1168.9 722.5,1166 725,1163.1 727.5,1160.3 730,1157.5 732.5,1154.6 735,1151.6 737.5,1148.7 740,1146 742.5,1143.8 745,1141.8 747.5,1140.1 750,1138.5 752.5,1137.1 755,1135.6 757.5,1134.2 760,1132.8 762.5,1131.2 765,1129.6 767.5,1128 770,1126.4 772.5,1124.8 775,1123.1 777.5,1121.5 780,1119.9 782.5,1118.2 785,1118.8 787.5,1119.4 790,1120 792.5,1120.6 795,1121.2 797.5,1121.8 800,1122.5 802.5,1123.2 805,1124 807.5,1124.8 810,1125.7 812.5,1126.6 815,1127.5 817.5,1128.4 820,1129.3 822.5,1130.3 825,1131.2 827.5,1132.2 830,1133.2 832.5,1134.1 835,1135.2 837.5,1136.3 840,1137.5 842.5,1138.9 845,1140.5 847.5,1142.3 850,1144.1 852.5,1146 855,1147.8 857.5,1149.6 860,1151.1 862.5,1152.5 865,1153.7 867.5,1154.7 870,1155.7 872.5,1156.6 875,1157.5 877.5,1158.4 880,1159.2 882.5,1160 885,1160.7 887.5,1161.5 890,1162.2 892.5,1162.9 895,1163.6 897.5,1164.3 900,1165 902.5,1165.7 905,1166.3 907.5,1167 910,1167.6 912.5,1168.2 915,1168.8 917.5,1169.4 920,1170.1 922.5,1170.7 925,1171.3 927.5,1171.9 930,1172.5"/>
<polyline class="bd" points="621.2,1242 623.7,1242.9 626.1,1243.8 628.5,1244.7 630.9,1245.6 633.4,1246.6 635.8,1247.5 638.2,1248.4 640.6,1249.3 643,1250.2 645.5,1251.1 647.9,1252 650.3,1252.9 652.7,1253.8 655.2,1254.6 657.6,1255.4 660,1256.2 662.5,1257 665,1257.8 667.5,1258.5 670,1259.3 672.5,1260 675,1260.7 677.5,1261.4 680,1262.1 682.5,1262.9 685,1263.8 687.7,1264.7 690.4,1265.7 693.1,1266.8 695.8,1267.9 698.5,1268.9 701.2,1270 703.8,1267.1 706.2,1264.4 708.8,1261.6 711.2,1258.5 713.8,1255 716.6,1250.2 719.4,1244.4 722.2,1238.4 725,1232.5 727.5,1227.2 730,1221.6 732.5,1216.1 735,1211.3 737.5,1207.5 740,1204.6 742.5,1202 745,1199.8 747.5,1197.7 750,1195.8 752.5,1194.1 755,1192.5 757.5,1191 760,1189.6 762.5,1188.2 765,1187 767.5,1185.8 770,1184.7 772.5,1183.6 775,1182.5 777.5,1181.4 780,1180.2 782.5,1179.1 785,1178 787.5,1177 790,1176.1 792.5,1175.5 795,1175 797.5,1174.7 800,1174.4 802.5,1174.1 805,1173.9 807.5,1173.8 810,1173.8 812.5,1174 815,1174.5 817.5,1175.3 820,1176.2 822.5,1177.6 825,1179.6 827.5,1182.1 830,1184.8 832.5,1187.5 835,1190 837.5,1192.4 840,1194.8 842.5,1197.3 845,1199.9 847.5,1202.4 850,1204.8 852.5,1207.2 855,1209.6 857.5,1211.7 860,1213.8 862.5,1215.7 865,1217.5 867.5,1219.3 870,1221 872.5,1222.5 875,1223.8 877.5,1224.9 880,1225.9 882.5,1226.9 885,1227.8 887.5,1228.6 890,1229.4 892.5,1230.2 895,1230.9 897.5,1231.7 900,1232.5 902.5,1233.3 905,1234.1 907.5,1234.8 910,1235.5 912.5,1236.3 915,1237 917.5,1237.7 920,1238.4 922.5,1239.1 925,1239.8 927.5,1240.5 930,1241.2"/>
<polyline class="bs" points="620,1298.8 622.5,1299.6 625,1300.5 627.5,1301.4 630,1302.2 632.5,1303.1 635,1304 637.5,1304.9 640,1305.8 642.5,1306.6 645,1307.5 647.5,1308.4 650,1309.2 652.5,1310.1 655,1310.9 657.5,1311.7 660,1312.5 662.6,1313.3 665.2,1314.1 667.7,1314.9 670.3,1315.6 672.9,1316.4 675.5,1317.1 678,1317.9 680.6,1318.6 683.2,1319.4 685.8,1320.1 688.4,1320.8 690.9,1321.5 693.5,1322.3 696.1,1323 698.7,1323.8 701.2,1324.5 703.5,1322.2 705.8,1320.1 708.1,1317.9 710.4,1315.6 712.7,1313 715,1310 717.1,1306.4 719.2,1301.8 721.2,1296.7 723.3,1291.4 725.4,1286.6 727.5,1282.5 730,1278.3 732.5,1274.3 735,1270.5 737.5,1267.2 740,1264.3 742.5,1262 745,1260.2 747.5,1258.7 750,1257.4 752.5,1256.2 755,1255 757.5,1253.8 760,1252.6 762.5,1251.4 765,1250.3 767.5,1249.3 770,1248.2 772.5,1247.2 775,1246.2 777.5,1245.2 780,1244.1 782.5,1243 785,1241.9 787.5,1241 790,1240.2 792.5,1239.7 795,1239.5 797.6,1239.5 800.2,1239.5 802.9,1239.5 805.5,1239.5 808.1,1239.5 810.8,1239.5 813.4,1239.5 816,1239.5 818.6,1239.5 821.2,1239.5 823.5,1241.7 825.8,1243.9 828.1,1246.1 830.4,1248.3 832.7,1250.4 835,1252.5 837.5,1254.7 840,1256.9 842.5,1259.1 845,1261.3 847.5,1263.5 850,1265.6 852.5,1267.7 855,1269.6 857.5,1271.5 860,1273.3 862.5,1275 865,1276.6 867.5,1278.1 870,1279.6 872.5,1280.9 875,1282 877.5,1283 880,1283.9 882.5,1284.8 885,1285.6 887.5,1286.4 890,1287.1 892.5,1287.8 895,1288.5 897.5,1289.3 900,1290 902.5,1290.8 905,1291.5 907.5,1292.2 910,1293 912.5,1293.7 915,1294.4 917.5,1295.1 920,1295.9 922.5,1296.6 925,1297.3 927.5,1298 930,1298.8"/>
</g>
<path class="tick" d="M661.2 1355.5v-4M661.2 975.7v4M715 1355.5v-4M715 975.7v4M768.9 1355.5v-4M768.9 975.7v4M822.8 1355.5v-4M822.8 975.7v4M876.7 1355.5v-4M876.7 975.7v4M930.5 1355.5v-4M930.5 975.7v4M607.3 1247h4M944 1247h-4M607.3 1111.3h4M944 1111.3h-4"/>
<rect class="box" x="607.3" y="975.7" width="336.7" height="379.8"/>
<g class="tl">
<text text-anchor="middle" transform="translate(607.3 1394.9) scale(0.945 1.000)">0</text>
<text text-anchor="middle" transform="translate(661.2 1394.9) scale(0.945 1.000)">4</text>
<text text-anchor="middle" transform="translate(715 1394.9) scale(0.945 1.000)">8</text>
<text text-anchor="middle" transform="translate(768.9 1394.9) scale(0.945 1.000)">12</text>
<text text-anchor="middle" transform="translate(822.8 1394.9) scale(0.945 1.000)">16</text>
<text text-anchor="middle" transform="translate(876.7 1394.9) scale(0.945 1.000)">20</text>
<text text-anchor="middle" transform="translate(930.5 1394.9) scale(0.945 1.000)">24</text>
<text text-anchor="end" transform="translate(595.8 1259) scale(0.945 1.000)">200</text>
<text text-anchor="end" transform="translate(595.8 1123.3) scale(0.945 1.000)">250</text>
<text text-anchor="end" transform="translate(595.8 987.7) scale(0.945 1.000)">300</text>
</g>
<line class="lgs" x1="686.8" y1="1017.7" x2="724.8" y2="1017.7"/>
<text class="lg" transform="translate(728.6 1019.3) scale(1.030 1.000)">L</text>
<text class="lg sub" transform="translate(748.6 1038.2) scale(1.030 1.000)">in</text>
<text class="lg" transform="translate(783.3 1019.3) scale(1.030 1.000)">high res.</text>
<line class="lgd" x1="686.1" y1="1071.9" x2="718.3" y2="1071.9" stroke-dasharray="11.3 8.3"/>
<text class="lg" transform="translate(728.6 1073.5) scale(1.030 1.000)">L</text>
<text class="lg sub" transform="translate(748.6 1092.4) scale(1.030 1.000)">in</text>
<text class="lg" transform="translate(783.3 1073.5) scale(1.030 1.000)">low res.</text>
</g>
<g class="panel">
<rect x="1056.8" y="975.7" width="337" height="379.8" fill="#fff"/>
<path class="grid" d="M1110.7 975.7V1355.5M1164.6 975.7V1355.5M1218.6 975.7V1355.5M1272.5 975.7V1355.5M1326.4 975.7V1355.5M1380.3 975.7V1355.5M1056.8 1271.1H1393.8M1056.8 1186.7H1393.8M1056.8 1102.3H1393.8M1056.8 1017.9H1393.8"/>
<clipPath id="cp22"><rect x="1056.8" y="974.7" width="337" height="381.8"/></clipPath>
<g clip-path="url(#cp22)">
<polyline class="gs" points="1070,1145.5 1072.5,1145.8 1075,1146.1 1077.5,1146.4 1080,1146.7 1082.5,1147.1 1085,1147.4 1087.5,1147.7 1090,1148.1 1092.5,1148.4 1095,1148.7 1097.5,1149 1100,1149.2 1102.5,1149.5 1105,1149.7 1107.5,1149.9 1110,1150 1112.4,1150.1 1114.8,1150.2 1117.3,1150.3 1119.7,1150.4 1122.1,1150.5 1124.5,1150.6 1127,1150.6 1129.4,1150.7 1131.8,1150.8 1134.2,1150.8 1136.6,1150.9 1139.1,1151 1141.5,1151 1143.9,1151.1 1146.3,1151.2 1148.8,1151.2 1151,1146 1153.3,1140.7 1155.6,1135.4 1157.9,1130.1 1160.2,1125 1162.5,1120 1165,1114.7 1167.5,1109.6 1170,1104.5 1172.5,1099.5 1175,1094.6 1177.5,1089.8 1180,1085 1182.5,1080.2 1185,1075.3 1187.5,1070.6 1190,1065.9 1192.5,1061.6 1195,1057.5 1197.5,1053.6 1200,1049.8 1202.5,1046.2 1205,1042.9 1207.5,1039.9 1210,1037.5 1212.5,1035.3 1215,1033.1 1217.5,1031.3 1220,1030 1222.5,1029.5 1224.7,1029.5 1226.9,1029.5 1229.1,1029.5 1231.2,1029.5 1233.5,1032.5 1235.8,1035.5 1238.1,1038.4 1240.4,1041.4 1242.7,1044.5 1245,1047.5 1247.5,1050.9 1250,1054.2 1252.5,1057.6 1255,1061 1257.5,1064.4 1260,1067.9 1262.5,1071.4 1265,1075 1267.5,1078.7 1270,1082.6 1272.5,1086.5 1275,1090.3 1277.5,1094.1 1280,1097.5 1282.5,1100.7 1285,1103.9 1287.5,1106.9 1290,1109.8 1292.5,1112.5 1295,1115 1297.5,1117.3 1300,1119.6 1302.5,1121.8 1305,1123.8 1307.5,1125.7 1310,1127.3 1312.5,1128.8 1315,1130 1317.5,1131.1 1320,1132 1322.5,1132.9 1325,1133.8 1327.5,1134.5 1330,1135.3 1332.5,1136 1335,1136.7 1337.5,1137.3 1340,1138 1342.5,1138.5 1345,1139.1 1347.5,1139.6 1350,1140 1352.5,1140.4 1355,1140.8 1357.5,1141.1 1360,1141.4 1362.5,1141.7 1365,1142 1367.5,1142.3 1370,1142.6 1372.5,1142.9 1375,1143.2 1377.5,1143.4 1380,1143.8"/>
<polyline class="bs2" points="1068.8,1152.5 1071.3,1152.7 1073.9,1153 1076.5,1153.2 1079.1,1153.5 1081.6,1153.8 1084.2,1154 1086.8,1154.3 1089.4,1154.5 1092,1154.8 1094.5,1155 1097.1,1155.3 1099.7,1155.5 1102.3,1155.7 1104.8,1155.9 1107.4,1156.1 1110,1156.2 1112.5,1156.4 1115,1156.6 1117.5,1156.7 1120,1156.9 1122.5,1157 1125,1157.1 1127.5,1157.3 1130,1157.4 1132.5,1157.5 1135,1157.7 1137.5,1157.8 1140,1157.8 1142.5,1157.9 1145,1158 1147.5,1158 1150,1158 1152.5,1157.6 1155,1156.5 1157.5,1155 1160,1153.2 1162.5,1151.2 1165,1148.8 1167.5,1145.6 1170,1141.8 1172.5,1137.8 1175,1133.8 1177.5,1130 1180,1126.2 1182.5,1122.2 1185,1118.1 1187.5,1114.3 1190,1111.1 1192.5,1108.8 1195,1107.2 1197.5,1106 1200,1105 1202.5,1103.9 1205,1102.5 1207.5,1100.5 1210,1097.8 1212.5,1094.9 1215,1092 1217.5,1089.4 1220,1087.5 1222.8,1086 1225.6,1084.8 1228.4,1083.7 1231.2,1082.5 1233.5,1083.5 1235.8,1084.4 1238.1,1085.4 1240.4,1086.4 1242.7,1087.5 1245,1088.8 1247.5,1090.3 1250,1092.2 1252.5,1094.2 1255,1096.4 1257.5,1098.8 1260,1101.2 1262.5,1104 1265,1107 1267.5,1110.2 1270,1113.5 1272.5,1116.8 1275,1120 1277.5,1123.2 1280,1126.6 1282.5,1129.8 1285,1132.7 1287.5,1135 1290,1136.9 1292.5,1138.6 1295,1140 1297.5,1141.2 1300,1142 1302.5,1142.6 1305,1143 1307.5,1143.4 1310,1143.8 1312.5,1144.1 1315,1144.4 1317.5,1144.6 1320,1144.9 1322.5,1145.2 1325,1145.5 1327.5,1145.8 1330,1146.2 1332.5,1146.5 1335,1146.9 1337.5,1147.2 1340,1147.6 1342.5,1147.9 1345,1148.2 1347.5,1148.5 1350,1148.8 1352.5,1149 1355,1149.2 1357.5,1149.5 1360,1149.7 1362.5,1149.9 1365,1150.1 1367.5,1150.3 1370,1150.5 1372.5,1150.7 1375,1150.8 1377.5,1151 1380,1151.2"/>
<polyline class="gd2" points="1070,1273 1072.5,1273.1 1075,1273.2 1077.5,1273.3 1080,1273.4 1082.5,1273.5 1085,1273.6 1087.5,1273.7 1090,1273.8 1092.5,1273.9 1095,1274 1097.5,1274.1 1100,1274.2 1102.5,1274.3 1105,1274.3 1107.5,1274.4 1110,1274.5 1112.4,1274.6 1114.8,1274.6 1117.3,1274.7 1119.7,1274.8 1122.1,1274.8 1124.5,1274.9 1127,1275 1129.4,1275 1131.8,1275.1 1134.2,1275.1 1136.6,1275.2 1139.1,1275.3 1141.5,1275.3 1143.9,1275.4 1146.3,1275.4 1148.8,1275.5 1151.5,1273 1154.2,1270.5 1156.9,1268 1159.6,1265.5 1162.3,1262.8 1165,1260 1167.5,1257.1 1170,1254 1172.5,1250.7 1175,1247.2 1177.5,1243.7 1180,1240.2 1182.5,1236.8 1185,1233.5 1187.5,1230.4 1190,1227.5 1192.5,1224.8 1195,1222.1 1197.5,1219.5 1200,1217 1202.5,1214.6 1205,1212.5 1207.5,1210.5 1210,1208.8 1212.5,1207.1 1215,1205.4 1217.5,1203.9 1220,1202.9 1222.5,1202.5 1224.7,1202.5 1226.9,1202.5 1229.1,1202.5 1231.2,1202.5 1233.6,1204.5 1235.9,1206.6 1238.3,1208.7 1240.6,1210.8 1243,1212.8 1245.3,1214.9 1247.7,1216.8 1250,1218.8 1252.5,1220.7 1255,1222.7 1257.5,1224.6 1260,1226.5 1262.5,1228.3 1265,1230.1 1267.5,1232 1270,1233.8 1272.5,1235.6 1275,1237.4 1277.5,1239.2 1280,1241 1282.5,1242.7 1285,1244.4 1287.5,1246 1290,1247.5 1292.5,1249 1295,1250.4 1297.5,1251.8 1300,1253.2 1302.5,1254.5 1305,1255.7 1307.5,1256.8 1310,1257.9 1312.5,1258.8 1315,1259.5 1317.5,1260.2 1320,1260.9 1322.5,1261.5 1325,1262 1327.5,1262.5 1330,1263 1332.5,1263.5 1335,1263.9 1337.5,1264.4 1340,1264.8 1342.5,1265.2 1345,1265.5 1347.5,1265.9 1350,1266.2 1352.5,1266.6 1355,1266.8 1357.5,1267 1360,1267.3 1362.5,1267.6 1365,1268 1367.5,1268.6 1370,1269.5 1372.5,1270.5 1375,1271.5 1377.5,1272.5"/>
<polyline class="bd2" points="1070,1273 1072.5,1273.1 1075,1273.3 1077.5,1273.4 1080,1273.5 1082.5,1273.7 1085,1273.8 1087.5,1273.9 1090,1274.1 1092.5,1274.2 1095,1274.3 1097.5,1274.4 1100,1274.6 1102.5,1274.7 1105,1274.8 1107.5,1274.9 1110,1275 1112.5,1275.1 1115,1275.2 1117.5,1275.3 1120,1275.4 1122.5,1275.5 1125,1275.6 1127.5,1275.7 1130,1275.8 1132.5,1275.9 1135,1276 1137.5,1276.1 1140,1276.1 1142.5,1276.2 1145,1276.2 1147.5,1276.2 1150,1276.2 1152.5,1276.1 1155,1275.8 1157.5,1275.2 1160,1274.5 1162.5,1273.8 1165,1272.5 1167.5,1270.5 1170,1268 1172.5,1265.2 1175,1262.3 1177.5,1259.7 1180,1257.5 1182.5,1255.6 1185,1253.7 1187.5,1251.8 1190,1250.1 1192.5,1248.5 1195,1247.2 1197.5,1246.2 1200,1245.6 1202.5,1245.1 1205,1244.5 1207.5,1243.3 1210,1241.6 1212.5,1239.6 1215,1237.6 1217.5,1236 1220,1235 1222.8,1234.3 1225.6,1233.8 1228.4,1233.4 1231.2,1233.2 1233.5,1233.4 1235.8,1233.7 1238.1,1234.2 1240.4,1234.8 1242.7,1235.5 1245,1236.2 1247.5,1237.2 1250,1238.3 1252.5,1239.7 1255,1241.2 1257.5,1242.9 1260,1244.6 1262.5,1246.2 1265,1248.1 1267.5,1250.1 1270,1252.2 1272.5,1254.3 1275,1256.2 1277.5,1258.2 1280,1260.2 1282.5,1262.2 1285,1263.8 1287.5,1265 1290,1265.8 1292.5,1266.5 1295,1267.1 1297.5,1267.6 1300,1268 1302.5,1268.3 1305,1268.6 1307.5,1268.8 1310,1269 1312.5,1269.2 1315,1269.4 1317.5,1269.5 1320,1269.7 1322.5,1269.8 1325,1270 1327.5,1270.1 1330,1270.3 1332.5,1270.4 1335,1270.5 1337.5,1270.6 1340,1270.7 1342.5,1270.8 1345,1271 1347.5,1271.1 1350,1271.2 1352.5,1271.4 1355,1271.6 1357.5,1271.8 1360,1272.1 1362.5,1272.3 1365,1272.5 1367.5,1272.8 1370,1273 1372.5,1273.3 1375,1273.5 1377.5,1273.8"/>
</g>
<path class="tick" d="M1110.7 1355.5v-4M1110.7 975.7v4M1164.6 1355.5v-4M1164.6 975.7v4M1218.6 1355.5v-4M1218.6 975.7v4M1272.5 1355.5v-4M1272.5 975.7v4M1326.4 1355.5v-4M1326.4 975.7v4M1380.3 1355.5v-4M1380.3 975.7v4M1056.8 1271.1h4M1393.8 1271.1h-4M1056.8 1186.7h4M1393.8 1186.7h-4M1056.8 1102.3h4M1393.8 1102.3h-4M1056.8 1017.9h4M1393.8 1017.9h-4"/>
<rect class="box" x="1056.8" y="975.7" width="337" height="379.8"/>
<g class="tl">
<text text-anchor="middle" transform="translate(1056.8 1394.9) scale(0.945 1.000)">0</text>
<text text-anchor="middle" transform="translate(1110.7 1394.9) scale(0.945 1.000)">4</text>
<text text-anchor="middle" transform="translate(1164.6 1394.9) scale(0.945 1.000)">8</text>
<text text-anchor="middle" transform="translate(1218.6 1394.9) scale(0.945 1.000)">12</text>
<text text-anchor="middle" transform="translate(1272.5 1394.9) scale(0.945 1.000)">16</text>
<text text-anchor="middle" transform="translate(1326.4 1394.9) scale(0.945 1.000)">20</text>
<text text-anchor="middle" transform="translate(1380.3 1394.9) scale(0.945 1.000)">24</text>
<text text-anchor="end" transform="translate(1045.3 1367.5) scale(0.945 1.000)">20</text>
<text text-anchor="end" transform="translate(1045.3 1283.1) scale(0.945 1.000)">40</text>
<text text-anchor="end" transform="translate(1045.3 1198.7) scale(0.945 1.000)">60</text>
<text text-anchor="end" transform="translate(1045.3 1114.3) scale(0.945 1.000)">80</text>
<text text-anchor="end" transform="translate(1045.3 1029.9) scale(0.945 1.000)">100</text>
</g>
<line class="lgs" x1="1143.8" y1="1017.7" x2="1180.3" y2="1017.7"/>
<text class="lg" transform="translate(1185.1 1019.3) scale(1.030 1.000)">L</text>
<text class="lg sub" transform="translate(1205.1 1038.2) scale(1.030 1.000)">d</text>
<text class="lg" transform="translate(1233.3 1019.3) scale(1.030 1.000)">high res.</text>
<line class="lgd" x1="1143.1" y1="1071.9" x2="1177.1" y2="1071.9" stroke-dasharray="10.5 9.8 12.5 9"/>
<text class="lg" transform="translate(1185.1 1073.5) scale(1.030 1.000)">L</text>
<text class="lg sub" transform="translate(1205.1 1092.4) scale(1.030 1.000)">d</text>
<text class="lg" transform="translate(1233.3 1073.5) scale(1.030 1.000)">low res.</text>
</g>
<text class="yl" transform="translate(54 1174.6) rotate(-90) scale(1 0.94)">Incoming shortwave radiation (W m<tspan dy="-21">-2</tspan><tspan dy="21">)</tspan></text>
<text class="xl" x="803.5" y="1430.2" text-anchor="middle">Time (hour)</text>
</svg>
</body></html>
